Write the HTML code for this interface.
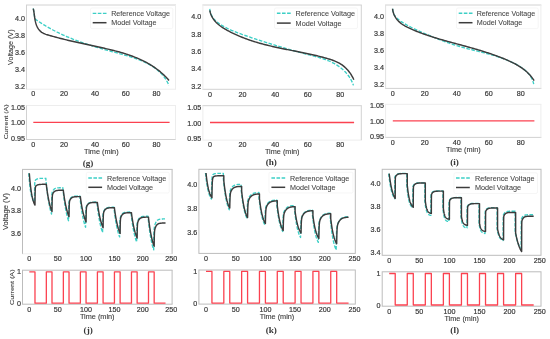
<!DOCTYPE html><html><head><meta charset="utf-8"><style>html,body{margin:0;padding:0;background:#fff;}svg{display:block;filter:blur(0.35px);}</style></head><body>
<svg width="550" height="339" viewBox="0 0 550 339">
<rect width="550" height="339" fill="#fff"/>
<path d="M26,5H176" stroke="#d2d2d2" stroke-width="1.0"/>
<path d="M26,89.2H176" stroke="#ededed" stroke-width="1.0"/>
<path d="M26.5,5V89.2" stroke="#d2d2d2" stroke-width="1.0"/>
<path d="M175.5,5V89.2" stroke="#ededed" stroke-width="1.0"/>
<path d="M26,105.5H176" stroke="#ededed" stroke-width="1.0"/>
<path d="M26,139.5H176" stroke="#d2d2d2" stroke-width="1.0"/>
<path d="M26.5,105.5V139.5" stroke="#d2d2d2" stroke-width="1.0"/>
<path d="M175.5,105.5V139.5" stroke="#ededed" stroke-width="1.0"/>
<text x="0" y="0" font-size="7.2" text-anchor="end" dominant-baseline="central" fill="#363636" font-family='"Liberation Sans", sans-serif' font-weight="normal" stroke="#363636" stroke-width="0.18" transform="translate(24.9 18.2) scale(1 1.12)">4.0</text>
<text x="0" y="0" font-size="7.2" text-anchor="end" dominant-baseline="central" fill="#363636" font-family='"Liberation Sans", sans-serif' font-weight="normal" stroke="#363636" stroke-width="0.18" transform="translate(24.9 35.2) scale(1 1.12)">3.8</text>
<text x="0" y="0" font-size="7.2" text-anchor="end" dominant-baseline="central" fill="#363636" font-family='"Liberation Sans", sans-serif' font-weight="normal" stroke="#363636" stroke-width="0.18" transform="translate(24.9 52.2) scale(1 1.12)">3.6</text>
<text x="0" y="0" font-size="7.2" text-anchor="end" dominant-baseline="central" fill="#363636" font-family='"Liberation Sans", sans-serif' font-weight="normal" stroke="#363636" stroke-width="0.18" transform="translate(24.9 69.2) scale(1 1.12)">3.4</text>
<text x="0" y="0" font-size="7.2" text-anchor="end" dominant-baseline="central" fill="#363636" font-family='"Liberation Sans", sans-serif' font-weight="normal" stroke="#363636" stroke-width="0.18" transform="translate(24.9 86.2) scale(1 1.12)">3.2</text>
<text x="0" y="0" font-size="7.2" text-anchor="middle" dominant-baseline="central" fill="#363636" font-family='"Liberation Sans", sans-serif' font-weight="normal" stroke="#363636" stroke-width="0.18" transform="translate(33.3 93.7) scale(1 1.12)">0</text>
<text x="0" y="0" font-size="7.2" text-anchor="middle" dominant-baseline="central" fill="#363636" font-family='"Liberation Sans", sans-serif' font-weight="normal" stroke="#363636" stroke-width="0.18" transform="translate(33.3 143.9) scale(1 1.12)">0</text>
<text x="0" y="0" font-size="7.2" text-anchor="middle" dominant-baseline="central" fill="#363636" font-family='"Liberation Sans", sans-serif' font-weight="normal" stroke="#363636" stroke-width="0.18" transform="translate(64.1 93.7) scale(1 1.12)">20</text>
<text x="0" y="0" font-size="7.2" text-anchor="middle" dominant-baseline="central" fill="#363636" font-family='"Liberation Sans", sans-serif' font-weight="normal" stroke="#363636" stroke-width="0.18" transform="translate(64.1 143.9) scale(1 1.12)">20</text>
<text x="0" y="0" font-size="7.2" text-anchor="middle" dominant-baseline="central" fill="#363636" font-family='"Liberation Sans", sans-serif' font-weight="normal" stroke="#363636" stroke-width="0.18" transform="translate(94.9 93.7) scale(1 1.12)">40</text>
<text x="0" y="0" font-size="7.2" text-anchor="middle" dominant-baseline="central" fill="#363636" font-family='"Liberation Sans", sans-serif' font-weight="normal" stroke="#363636" stroke-width="0.18" transform="translate(94.9 143.9) scale(1 1.12)">40</text>
<text x="0" y="0" font-size="7.2" text-anchor="middle" dominant-baseline="central" fill="#363636" font-family='"Liberation Sans", sans-serif' font-weight="normal" stroke="#363636" stroke-width="0.18" transform="translate(125.7 93.7) scale(1 1.12)">60</text>
<text x="0" y="0" font-size="7.2" text-anchor="middle" dominant-baseline="central" fill="#363636" font-family='"Liberation Sans", sans-serif' font-weight="normal" stroke="#363636" stroke-width="0.18" transform="translate(125.7 143.9) scale(1 1.12)">60</text>
<text x="0" y="0" font-size="7.2" text-anchor="middle" dominant-baseline="central" fill="#363636" font-family='"Liberation Sans", sans-serif' font-weight="normal" stroke="#363636" stroke-width="0.18" transform="translate(156.5 93.7) scale(1 1.12)">80</text>
<text x="0" y="0" font-size="7.2" text-anchor="middle" dominant-baseline="central" fill="#363636" font-family='"Liberation Sans", sans-serif' font-weight="normal" stroke="#363636" stroke-width="0.18" transform="translate(156.5 143.9) scale(1 1.12)">80</text>
<text x="0" y="0" font-size="7.2" text-anchor="end" dominant-baseline="central" fill="#363636" font-family='"Liberation Sans", sans-serif' font-weight="normal" stroke="#363636" stroke-width="0.18" transform="translate(24.9 107.1) scale(1 1.12)">1.05</text>
<text x="0" y="0" font-size="7.2" text-anchor="end" dominant-baseline="central" fill="#363636" font-family='"Liberation Sans", sans-serif' font-weight="normal" stroke="#363636" stroke-width="0.18" transform="translate(24.9 122.6) scale(1 1.12)">1.00</text>
<text x="0" y="0" font-size="7.2" text-anchor="end" dominant-baseline="central" fill="#363636" font-family='"Liberation Sans", sans-serif' font-weight="normal" stroke="#363636" stroke-width="0.18" transform="translate(24.9 138.3) scale(1 1.12)">0.95</text>
<path d="M33.3,8.5 L34.6,16.8 L35.72,19.46 L36.61,20.09 L37.51,20.71 L38.41,21.33 L39.32,21.93 L40.23,22.54 L41.15,23.13 L42.07,23.72 L42.99,24.3 L43.92,24.87 L44.85,25.44 L45.79,26 L46.72,26.55 L47.67,27.1 L48.62,27.64 L49.57,28.18 L50.52,28.7 L51.48,29.23 L52.44,29.74 L53.4,30.25 L54.37,30.75 L55.34,31.25 L56.32,31.74 L57.3,32.23 L58.28,32.71 L59.26,33.18 L60.25,33.65 L61.24,34.12 L62.23,34.57 L63.22,35.03 L64.22,35.47 L65.22,35.91 L66.22,36.35 L67.23,36.78 L68.23,37.21 L69.24,37.63 L70.26,38.05 L71.27,38.46 L72.28,38.86 L73.3,39.27 L74.32,39.66 L75.34,40.06 L76.37,40.44 L77.39,40.83 L78.42,41.21 L79.45,41.58 L80.48,41.95 L81.51,42.32 L82.54,42.68 L83.58,43.04 L84.61,43.4 L85.65,43.75 L86.69,44.1 L87.73,44.44 L88.76,44.78 L89.81,45.12 L90.85,45.45 L91.89,45.78 L92.93,46.11 L93.98,46.43 L95.02,46.75 L96.06,47.07 L97.11,47.38 L98.16,47.69 L99.2,48 L100.25,48.3 L101.29,48.6 L102.34,48.9 L103.39,49.2 L104.43,49.5 L105.48,49.79 L106.53,50.08 L107.58,50.38 L108.63,50.67 L109.68,50.95 L110.73,51.24 L111.78,51.53 L112.83,51.82 L113.88,52.11 L114.93,52.4 L115.99,52.68 L117.04,52.97 L118.1,53.26 L119.15,53.56 L120.21,53.85 L121.26,54.14 L122.32,54.44 L123.38,54.74 L124.44,55.04 L125.5,55.34 L126.56,55.65 L127.62,55.96 L128.68,56.27 L129.73,56.59 L130.79,56.92 L131.84,57.25 L132.89,57.59 L133.93,57.93 L134.98,58.29 L136.02,58.65 L137.05,59.02 L138.08,59.4 L139.11,59.79 L140.13,60.18 L141.14,60.59 L142.15,61.02 L143.15,61.45 L144.14,61.89 L145.13,62.35 L146.11,62.82 L147.07,63.31 L148.04,63.81 L148.99,64.33 L149.93,64.86 L150.86,65.4 L151.78,65.97 L152.69,66.55 L153.59,67.15 L154.48,67.76 L155.35,68.4 L156.21,69.05 L157.05,69.72 L157.88,70.41 L158.69,71.12 L159.49,71.84 L160.27,72.59 L161.03,73.36 L161.77,74.15 L162.49,74.96 L163.19,75.8 L163.87,76.65 L164.53,77.53 L165.16,78.43 L165.77,79.35 L166.36,80.29 L166.92,81.26 L167.46,82.25 L167.97,83.27 L168.45,84.31 L168.91,85.38" fill="none" stroke="#3ccfc6" stroke-width="1.35" stroke-linejoin="round" stroke-linecap="butt" stroke-dasharray="3.6 1.5"/>
<path d="M33.27,8.55 L33.5,9.61 L33.71,10.71 L33.89,11.84 L34.06,13 L34.22,14.19 L34.37,15.39 L34.54,16.6 L34.72,17.82 L34.91,19.04 L35.13,20.25 L35.38,21.45 L35.67,22.63 L36,23.8 L36.38,24.93 L36.82,26.04 L37.33,27.1 L37.9,28.12 L38.53,29.09 L39.24,30 L40,30.85 L40.83,31.63 L41.73,32.33 L42.69,32.95 L43.72,33.48 L44.79,33.94 L45.91,34.33 L47.05,34.69 L48.2,35.03 L49.35,35.37 L50.5,35.7 L51.65,36.03 L52.79,36.35 L53.94,36.67 L55.08,36.98 L56.23,37.29 L57.37,37.6 L58.52,37.9 L59.66,38.2 L60.81,38.49 L61.95,38.78 L63.09,39.07 L64.24,39.35 L65.38,39.63 L66.52,39.91 L67.66,40.19 L68.81,40.46 L69.95,40.73 L71.09,41 L72.24,41.26 L73.38,41.52 L74.53,41.78 L75.67,42.04 L76.82,42.3 L77.96,42.56 L79.11,42.81 L80.25,43.06 L81.4,43.31 L82.55,43.56 L83.7,43.81 L84.85,44.06 L86,44.31 L87.15,44.56 L88.3,44.81 L89.45,45.05 L90.6,45.3 L91.76,45.55 L92.91,45.79 L94.07,46.04 L95.23,46.29 L96.39,46.54 L97.55,46.79 L98.71,47.04 L99.87,47.29 L101.03,47.55 L102.19,47.8 L103.36,48.06 L104.52,48.32 L105.68,48.59 L106.84,48.85 L108,49.12 L109.16,49.4 L110.32,49.68 L111.48,49.96 L112.63,50.24 L113.79,50.54 L114.94,50.83 L116.09,51.13 L117.24,51.44 L118.39,51.75 L119.53,52.07 L120.67,52.39 L121.81,52.72 L122.95,53.06 L124.08,53.41 L125.21,53.76 L126.34,54.12 L127.46,54.48 L128.58,54.86 L129.69,55.24 L130.81,55.64 L131.91,56.04 L133.01,56.45 L134.11,56.87 L135.2,57.3 L136.29,57.74 L137.37,58.18 L138.45,58.64 L139.52,59.11 L140.59,59.6 L141.64,60.09 L142.7,60.59 L143.75,61.11 L144.79,61.64 L145.82,62.18 L146.85,62.73 L147.87,63.3 L148.88,63.87 L149.89,64.47 L150.89,65.07 L151.88,65.69 L152.86,66.32 L153.83,66.97 L154.8,67.64 L155.76,68.31 L156.71,69.01 L157.65,69.71 L158.58,70.44 L159.51,71.18 L160.42,71.93 L161.32,72.71 L162.22,73.5 L163.1,74.3 L163.98,75.12 L164.84,75.97 L165.7,76.83 L166.54,77.7 L167.38,78.6 L168.2,79.51 L169.01,80.44" fill="none" stroke="#3c3c3c" stroke-width="1.45" stroke-linejoin="round" stroke-linecap="butt"/>
<path d="M33.3,122.4 L169.59,122.4" fill="none" stroke="#fb4250" stroke-width="1.3" stroke-linejoin="round" stroke-linecap="butt"/>
<rect x="90.5" y="8" width="82.3" height="20.6" rx="1.5" fill="#fff" fill-opacity="0.8" stroke="#f2f2f2" stroke-width="0.7"/>
<path d="M92.7,13.4 L106.5,13.4" fill="none" stroke="#3ccfc6" stroke-width="1.4" stroke-linejoin="round" stroke-linecap="butt" stroke-dasharray="3.6 1.5"/>
<path d="M92.7,22.7 L106.5,22.7" fill="none" stroke="#3c3c3c" stroke-width="1.5" stroke-linejoin="round" stroke-linecap="butt"/>
<text x="0" y="0" font-size="7.5" text-anchor="start" dominant-baseline="central" fill="#444444" font-family='"Liberation Sans", sans-serif' font-weight="normal" stroke="#444444" stroke-width="0.06" transform="translate(111.2 13.4)" textLength="58.7" lengthAdjust="spacingAndGlyphs">Reference Voltage</text>
<text x="0" y="0" font-size="7.5" text-anchor="start" dominant-baseline="central" fill="#444444" font-family='"Liberation Sans", sans-serif' font-weight="normal" stroke="#444444" stroke-width="0.06" transform="translate(111.2 22.7)" textLength="45.4" lengthAdjust="spacingAndGlyphs">Model Voltage</text>
<text x="0" y="0" font-size="7.8" text-anchor="middle" dominant-baseline="central" fill="#363636" font-family='"Liberation Sans", sans-serif' font-weight="normal" stroke="#363636" stroke-width="0.1" transform="translate(101.3 151)" textLength="34.6" lengthAdjust="spacingAndGlyphs">Time (min)</text>
<text x="0" y="0" font-size="9.2" text-anchor="middle" dominant-baseline="central" fill="#363636" font-family='"Liberation Serif", serif' font-weight="bold" stroke="#363636" stroke-width="0" transform="translate(88 162.7)">(g)</text>
<path d="M202.4,5H361.8" stroke="#d2d2d2" stroke-width="1.0"/>
<path d="M202.4,89.3H361.8" stroke="#d2d2d2" stroke-width="1.0"/>
<path d="M202.9,5V89.3" stroke="#ededed" stroke-width="1.0"/>
<path d="M361.3,5V89.3" stroke="#d2d2d2" stroke-width="1.0"/>
<path d="M202.4,105.7H361.8" stroke="#d2d2d2" stroke-width="1.0"/>
<path d="M202.4,140.1H361.8" stroke="#ededed" stroke-width="1.0"/>
<path d="M202.9,105.7V140.1" stroke="#ededed" stroke-width="1.0"/>
<path d="M361.3,105.7V140.1" stroke="#d2d2d2" stroke-width="1.0"/>
<text x="0" y="0" font-size="7.2" text-anchor="end" dominant-baseline="central" fill="#363636" font-family='"Liberation Sans", sans-serif' font-weight="normal" stroke="#363636" stroke-width="0.18" transform="translate(201.3 16.8) scale(1 1.12)">4.0</text>
<text x="0" y="0" font-size="7.2" text-anchor="end" dominant-baseline="central" fill="#363636" font-family='"Liberation Sans", sans-serif' font-weight="normal" stroke="#363636" stroke-width="0.18" transform="translate(201.3 34.1) scale(1 1.12)">3.8</text>
<text x="0" y="0" font-size="7.2" text-anchor="end" dominant-baseline="central" fill="#363636" font-family='"Liberation Sans", sans-serif' font-weight="normal" stroke="#363636" stroke-width="0.18" transform="translate(201.3 51.4) scale(1 1.12)">3.6</text>
<text x="0" y="0" font-size="7.2" text-anchor="end" dominant-baseline="central" fill="#363636" font-family='"Liberation Sans", sans-serif' font-weight="normal" stroke="#363636" stroke-width="0.18" transform="translate(201.3 68.7) scale(1 1.12)">3.4</text>
<text x="0" y="0" font-size="7.2" text-anchor="end" dominant-baseline="central" fill="#363636" font-family='"Liberation Sans", sans-serif' font-weight="normal" stroke="#363636" stroke-width="0.18" transform="translate(201.3 86) scale(1 1.12)">3.2</text>
<text x="0" y="0" font-size="7.2" text-anchor="middle" dominant-baseline="central" fill="#363636" font-family='"Liberation Sans", sans-serif' font-weight="normal" stroke="#363636" stroke-width="0.18" transform="translate(210 94.2) scale(1 1.12)">0</text>
<text x="0" y="0" font-size="7.2" text-anchor="middle" dominant-baseline="central" fill="#363636" font-family='"Liberation Sans", sans-serif' font-weight="normal" stroke="#363636" stroke-width="0.18" transform="translate(210 144.4) scale(1 1.12)">0</text>
<text x="0" y="0" font-size="7.2" text-anchor="middle" dominant-baseline="central" fill="#363636" font-family='"Liberation Sans", sans-serif' font-weight="normal" stroke="#363636" stroke-width="0.18" transform="translate(242.56 94.2) scale(1 1.12)">20</text>
<text x="0" y="0" font-size="7.2" text-anchor="middle" dominant-baseline="central" fill="#363636" font-family='"Liberation Sans", sans-serif' font-weight="normal" stroke="#363636" stroke-width="0.18" transform="translate(242.56 144.4) scale(1 1.12)">20</text>
<text x="0" y="0" font-size="7.2" text-anchor="middle" dominant-baseline="central" fill="#363636" font-family='"Liberation Sans", sans-serif' font-weight="normal" stroke="#363636" stroke-width="0.18" transform="translate(275.12 94.2) scale(1 1.12)">40</text>
<text x="0" y="0" font-size="7.2" text-anchor="middle" dominant-baseline="central" fill="#363636" font-family='"Liberation Sans", sans-serif' font-weight="normal" stroke="#363636" stroke-width="0.18" transform="translate(275.12 144.4) scale(1 1.12)">40</text>
<text x="0" y="0" font-size="7.2" text-anchor="middle" dominant-baseline="central" fill="#363636" font-family='"Liberation Sans", sans-serif' font-weight="normal" stroke="#363636" stroke-width="0.18" transform="translate(307.68 94.2) scale(1 1.12)">60</text>
<text x="0" y="0" font-size="7.2" text-anchor="middle" dominant-baseline="central" fill="#363636" font-family='"Liberation Sans", sans-serif' font-weight="normal" stroke="#363636" stroke-width="0.18" transform="translate(307.68 144.4) scale(1 1.12)">60</text>
<text x="0" y="0" font-size="7.2" text-anchor="middle" dominant-baseline="central" fill="#363636" font-family='"Liberation Sans", sans-serif' font-weight="normal" stroke="#363636" stroke-width="0.18" transform="translate(340.24 94.2) scale(1 1.12)">80</text>
<text x="0" y="0" font-size="7.2" text-anchor="middle" dominant-baseline="central" fill="#363636" font-family='"Liberation Sans", sans-serif' font-weight="normal" stroke="#363636" stroke-width="0.18" transform="translate(340.24 144.4) scale(1 1.12)">80</text>
<text x="0" y="0" font-size="7.2" text-anchor="end" dominant-baseline="central" fill="#363636" font-family='"Liberation Sans", sans-serif' font-weight="normal" stroke="#363636" stroke-width="0.18" transform="translate(201.3 107.8) scale(1 1.12)">1.05</text>
<text x="0" y="0" font-size="7.2" text-anchor="end" dominant-baseline="central" fill="#363636" font-family='"Liberation Sans", sans-serif' font-weight="normal" stroke="#363636" stroke-width="0.18" transform="translate(201.3 122.9) scale(1 1.12)">1.00</text>
<text x="0" y="0" font-size="7.2" text-anchor="end" dominant-baseline="central" fill="#363636" font-family='"Liberation Sans", sans-serif' font-weight="normal" stroke="#363636" stroke-width="0.18" transform="translate(201.3 137.9) scale(1 1.12)">0.95</text>
<path d="M209.76,8.89 L209.92,10.2 L210.17,11.45 L210.49,12.64 L210.89,13.79 L211.36,14.88 L211.9,15.93 L212.49,16.94 L213.15,17.9 L213.86,18.82 L214.63,19.7 L215.44,20.54 L216.29,21.35 L217.19,22.13 L218.12,22.87 L219.08,23.59 L220.08,24.27 L221.09,24.94 L222.13,25.57 L223.19,26.19 L224.26,26.79 L225.34,27.37 L226.44,27.93 L227.54,28.48 L228.66,29.01 L229.78,29.52 L230.92,30.03 L232.05,30.52 L233.2,30.99 L234.35,31.46 L235.51,31.92 L236.66,32.37 L237.83,32.81 L238.99,33.25 L240.16,33.68 L241.32,34.1 L242.48,34.52 L243.65,34.94 L244.81,35.35 L245.97,35.76 L247.14,36.17 L248.3,36.57 L249.46,36.98 L250.62,37.37 L251.78,37.77 L252.94,38.16 L254.1,38.55 L255.26,38.93 L256.42,39.32 L257.58,39.7 L258.74,40.08 L259.9,40.46 L261.05,40.83 L262.21,41.2 L263.37,41.57 L264.53,41.94 L265.69,42.31 L266.85,42.67 L268.01,43.03 L269.17,43.4 L270.34,43.76 L271.5,44.11 L272.66,44.47 L273.82,44.83 L274.99,45.18 L276.15,45.54 L277.32,45.89 L278.48,46.24 L279.65,46.59 L280.82,46.94 L281.99,47.29 L283.16,47.64 L284.33,47.99 L285.5,48.34 L286.67,48.68 L287.84,49.03 L289.02,49.37 L290.19,49.71 L291.37,50.06 L292.55,50.39 L293.73,50.73 L294.91,51.07 L296.09,51.4 L297.27,51.73 L298.45,52.06 L299.64,52.39 L300.82,52.71 L302.01,53.04 L303.2,53.36 L304.39,53.67 L305.58,53.99 L306.77,54.3 L307.96,54.61 L309.15,54.91 L310.35,55.21 L311.54,55.52 L312.73,55.82 L313.93,56.13 L315.12,56.44 L316.3,56.76 L317.49,57.08 L318.67,57.42 L319.85,57.76 L321.02,58.11 L322.19,58.47 L323.35,58.85 L324.51,59.25 L325.65,59.66 L326.79,60.08 L327.93,60.53 L329.05,61 L330.17,61.49 L331.27,62 L332.36,62.54 L333.45,63.1 L334.52,63.69 L335.57,64.3 L336.61,64.93 L337.64,65.59 L338.65,66.28 L339.63,66.99 L340.6,67.72 L341.55,68.48 L342.48,69.27 L343.38,70.08 L344.26,70.92 L345.12,71.78 L345.95,72.67 L346.75,73.59 L347.52,74.53 L348.27,75.49 L348.98,76.49 L349.66,77.51 L350.31,78.55 L350.93,79.62 L351.51,80.72 L352.05,81.85 L352.55,83 L353.02,84.18 L353.45,85.39" fill="none" stroke="#3ccfc6" stroke-width="1.35" stroke-linejoin="round" stroke-linecap="butt" stroke-dasharray="3.6 1.5"/>
<path d="M209.8,10.33 L210.05,11.57 L210.36,12.77 L210.73,13.93 L211.16,15.05 L211.65,16.13 L212.19,17.17 L212.78,18.17 L213.42,19.14 L214.11,20.07 L214.84,20.97 L215.62,21.84 L216.43,22.68 L217.28,23.5 L218.16,24.28 L219.07,25.04 L220.01,25.77 L220.98,26.48 L221.97,27.17 L222.98,27.83 L224.01,28.48 L225.06,29.11 L226.12,29.72 L227.19,30.32 L228.27,30.9 L229.36,31.47 L230.44,32.03 L231.53,32.58 L232.63,33.11 L233.72,33.64 L234.82,34.15 L235.93,34.66 L237.03,35.15 L238.14,35.64 L239.25,36.11 L240.36,36.58 L241.48,37.03 L242.59,37.48 L243.71,37.91 L244.84,38.34 L245.96,38.76 L247.09,39.17 L248.22,39.57 L249.35,39.97 L250.48,40.36 L251.62,40.73 L252.75,41.11 L253.89,41.47 L255.04,41.83 L256.18,42.17 L257.33,42.52 L258.47,42.85 L259.62,43.18 L260.77,43.51 L261.93,43.82 L263.08,44.13 L264.24,44.44 L265.4,44.74 L266.56,45.03 L267.72,45.32 L268.88,45.61 L270.05,45.89 L271.21,46.16 L272.38,46.43 L273.55,46.7 L274.72,46.96 L275.89,47.22 L277.06,47.47 L278.24,47.73 L279.41,47.98 L280.59,48.22 L281.76,48.47 L282.94,48.71 L284.12,48.95 L285.3,49.19 L286.47,49.42 L287.65,49.66 L288.83,49.89 L290.02,50.12 L291.2,50.36 L292.38,50.59 L293.56,50.82 L294.74,51.05 L295.92,51.29 L297.1,51.52 L298.29,51.75 L299.47,51.99 L300.65,52.23 L301.83,52.46 L303.01,52.7 L304.19,52.95 L305.37,53.19 L306.55,53.44 L307.73,53.69 L308.91,53.94 L310.08,54.19 L311.26,54.45 L312.43,54.72 L313.61,54.98 L314.78,55.26 L315.95,55.53 L317.13,55.81 L318.3,56.1 L319.47,56.39 L320.63,56.68 L321.8,56.99 L322.96,57.29 L324.13,57.61 L325.29,57.93 L326.45,58.25 L327.6,58.59 L328.76,58.94 L329.9,59.29 L331.04,59.67 L332.17,60.06 L333.29,60.47 L334.4,60.9 L335.49,61.36 L336.57,61.84 L337.64,62.35 L338.69,62.89 L339.71,63.46 L340.72,64.07 L341.71,64.71 L342.67,65.4 L343.6,66.12 L344.52,66.88 L345.4,67.68 L346.26,68.51 L347.1,69.38 L347.9,70.29 L348.68,71.22 L349.43,72.19 L350.15,73.18 L350.84,74.21 L351.5,75.26 L352.13,76.33 L352.73,77.43 L353.29,78.55 L353.83,79.69" fill="none" stroke="#3c3c3c" stroke-width="1.45" stroke-linejoin="round" stroke-linecap="butt"/>
<path d="M210,122.5 L354.08,122.5" fill="none" stroke="#fb4250" stroke-width="1.3" stroke-linejoin="round" stroke-linecap="butt"/>
<rect x="274.5" y="8" width="83" height="20.6" rx="1.5" fill="#fff" fill-opacity="0.8" stroke="#f2f2f2" stroke-width="0.7"/>
<path d="M276.9,13.3 L290.7,13.3" fill="none" stroke="#3ccfc6" stroke-width="1.4" stroke-linejoin="round" stroke-linecap="butt" stroke-dasharray="3.6 1.5"/>
<path d="M276.9,23.1 L290.7,23.1" fill="none" stroke="#3c3c3c" stroke-width="1.5" stroke-linejoin="round" stroke-linecap="butt"/>
<text x="0" y="0" font-size="7.5" text-anchor="start" dominant-baseline="central" fill="#444444" font-family='"Liberation Sans", sans-serif' font-weight="normal" stroke="#444444" stroke-width="0.06" transform="translate(295.6 13.3)" textLength="59.4" lengthAdjust="spacingAndGlyphs">Reference Voltage</text>
<text x="0" y="0" font-size="7.5" text-anchor="start" dominant-baseline="central" fill="#444444" font-family='"Liberation Sans", sans-serif' font-weight="normal" stroke="#444444" stroke-width="0.06" transform="translate(295.6 23.1)" textLength="46" lengthAdjust="spacingAndGlyphs">Model Voltage</text>
<text x="0" y="0" font-size="7.8" text-anchor="middle" dominant-baseline="central" fill="#363636" font-family='"Liberation Sans", sans-serif' font-weight="normal" stroke="#363636" stroke-width="0.1" transform="translate(282.2 151.6)" textLength="34.6" lengthAdjust="spacingAndGlyphs">Time (min)</text>
<text x="0" y="0" font-size="9.2" text-anchor="middle" dominant-baseline="central" fill="#363636" font-family='"Liberation Serif", serif' font-weight="bold" stroke="#363636" stroke-width="0" transform="translate(271.3 162.3)">(h)</text>
<path d="M385.1,5H541.4" stroke="#d2d2d2" stroke-width="1.0"/>
<path d="M385.1,88.4H541.4" stroke="#d2d2d2" stroke-width="1.0"/>
<path d="M385.6,5V88.4" stroke="#e0e0e0" stroke-width="1.0"/>
<path d="M540.9,5V88.4" stroke="#ededed" stroke-width="1.0"/>
<path d="M385.1,104.3H541.4" stroke="#ededed" stroke-width="1.0"/>
<path d="M385.1,137.4H541.4" stroke="#d2d2d2" stroke-width="1.0"/>
<path d="M385.6,104.3V137.4" stroke="#ededed" stroke-width="1.0"/>
<path d="M540.9,104.3V137.4" stroke="#ededed" stroke-width="1.0"/>
<text x="0" y="0" font-size="7.2" text-anchor="end" dominant-baseline="central" fill="#363636" font-family='"Liberation Sans", sans-serif' font-weight="normal" stroke="#363636" stroke-width="0.18" transform="translate(384 16.8) scale(1 1.12)">4.0</text>
<text x="0" y="0" font-size="7.2" text-anchor="end" dominant-baseline="central" fill="#363636" font-family='"Liberation Sans", sans-serif' font-weight="normal" stroke="#363636" stroke-width="0.18" transform="translate(384 33.7) scale(1 1.12)">3.8</text>
<text x="0" y="0" font-size="7.2" text-anchor="end" dominant-baseline="central" fill="#363636" font-family='"Liberation Sans", sans-serif' font-weight="normal" stroke="#363636" stroke-width="0.18" transform="translate(384 50.6) scale(1 1.12)">3.6</text>
<text x="0" y="0" font-size="7.2" text-anchor="end" dominant-baseline="central" fill="#363636" font-family='"Liberation Sans", sans-serif' font-weight="normal" stroke="#363636" stroke-width="0.18" transform="translate(384 67.5) scale(1 1.12)">3.4</text>
<text x="0" y="0" font-size="7.2" text-anchor="end" dominant-baseline="central" fill="#363636" font-family='"Liberation Sans", sans-serif' font-weight="normal" stroke="#363636" stroke-width="0.18" transform="translate(384 84.4) scale(1 1.12)">3.2</text>
<text x="0" y="0" font-size="7.2" text-anchor="middle" dominant-baseline="central" fill="#363636" font-family='"Liberation Sans", sans-serif' font-weight="normal" stroke="#363636" stroke-width="0.18" transform="translate(392.8 93) scale(1 1.12)">0</text>
<text x="0" y="0" font-size="7.2" text-anchor="middle" dominant-baseline="central" fill="#363636" font-family='"Liberation Sans", sans-serif' font-weight="normal" stroke="#363636" stroke-width="0.18" transform="translate(392.8 142.6) scale(1 1.12)">0</text>
<text x="0" y="0" font-size="7.2" text-anchor="middle" dominant-baseline="central" fill="#363636" font-family='"Liberation Sans", sans-serif' font-weight="normal" stroke="#363636" stroke-width="0.18" transform="translate(424.8 93) scale(1 1.12)">20</text>
<text x="0" y="0" font-size="7.2" text-anchor="middle" dominant-baseline="central" fill="#363636" font-family='"Liberation Sans", sans-serif' font-weight="normal" stroke="#363636" stroke-width="0.18" transform="translate(424.8 142.6) scale(1 1.12)">20</text>
<text x="0" y="0" font-size="7.2" text-anchor="middle" dominant-baseline="central" fill="#363636" font-family='"Liberation Sans", sans-serif' font-weight="normal" stroke="#363636" stroke-width="0.18" transform="translate(456.8 93) scale(1 1.12)">40</text>
<text x="0" y="0" font-size="7.2" text-anchor="middle" dominant-baseline="central" fill="#363636" font-family='"Liberation Sans", sans-serif' font-weight="normal" stroke="#363636" stroke-width="0.18" transform="translate(456.8 142.6) scale(1 1.12)">40</text>
<text x="0" y="0" font-size="7.2" text-anchor="middle" dominant-baseline="central" fill="#363636" font-family='"Liberation Sans", sans-serif' font-weight="normal" stroke="#363636" stroke-width="0.18" transform="translate(488.8 93) scale(1 1.12)">60</text>
<text x="0" y="0" font-size="7.2" text-anchor="middle" dominant-baseline="central" fill="#363636" font-family='"Liberation Sans", sans-serif' font-weight="normal" stroke="#363636" stroke-width="0.18" transform="translate(488.8 142.6) scale(1 1.12)">60</text>
<text x="0" y="0" font-size="7.2" text-anchor="middle" dominant-baseline="central" fill="#363636" font-family='"Liberation Sans", sans-serif' font-weight="normal" stroke="#363636" stroke-width="0.18" transform="translate(520.8 93) scale(1 1.12)">80</text>
<text x="0" y="0" font-size="7.2" text-anchor="middle" dominant-baseline="central" fill="#363636" font-family='"Liberation Sans", sans-serif' font-weight="normal" stroke="#363636" stroke-width="0.18" transform="translate(520.8 142.6) scale(1 1.12)">80</text>
<text x="0" y="0" font-size="7.2" text-anchor="end" dominant-baseline="central" fill="#363636" font-family='"Liberation Sans", sans-serif' font-weight="normal" stroke="#363636" stroke-width="0.18" transform="translate(384 105.6) scale(1 1.12)">1.05</text>
<text x="0" y="0" font-size="7.2" text-anchor="end" dominant-baseline="central" fill="#363636" font-family='"Liberation Sans", sans-serif' font-weight="normal" stroke="#363636" stroke-width="0.18" transform="translate(384 121.2) scale(1 1.12)">1.00</text>
<text x="0" y="0" font-size="7.2" text-anchor="end" dominant-baseline="central" fill="#363636" font-family='"Liberation Sans", sans-serif' font-weight="normal" stroke="#363636" stroke-width="0.18" transform="translate(384 136.6) scale(1 1.12)">0.95</text>
<path d="M392.69,8.82 L392.78,10.16 L392.99,11.42 L393.31,12.6 L393.73,13.71 L394.25,14.75 L394.85,15.72 L395.52,16.63 L396.27,17.5 L397.07,18.31 L397.93,19.09 L398.83,19.83 L399.76,20.54 L400.72,21.23 L401.69,21.89 L402.68,22.54 L403.69,23.18 L404.7,23.8 L405.73,24.4 L406.78,24.99 L407.83,25.57 L408.89,26.13 L409.96,26.69 L411.04,27.23 L412.12,27.77 L413.21,28.3 L414.3,28.82 L415.4,29.33 L416.5,29.84 L417.6,30.35 L418.7,30.85 L419.8,31.35 L420.91,31.84 L422.01,32.33 L423.11,32.82 L424.21,33.3 L425.31,33.79 L426.42,34.26 L427.52,34.74 L428.62,35.21 L429.73,35.68 L430.83,36.14 L431.94,36.6 L433.05,37.05 L434.15,37.5 L435.26,37.95 L436.37,38.39 L437.48,38.83 L438.59,39.27 L439.7,39.7 L440.82,40.12 L441.93,40.54 L443.05,40.96 L444.17,41.37 L445.28,41.78 L446.41,42.18 L447.53,42.58 L448.65,42.97 L449.78,43.36 L450.9,43.74 L452.03,44.11 L453.16,44.49 L454.3,44.85 L455.43,45.21 L456.57,45.57 L457.71,45.92 L458.85,46.26 L460,46.6 L461.14,46.93 L462.29,47.25 L463.44,47.57 L464.6,47.89 L465.75,48.2 L466.91,48.51 L468.07,48.81 L469.23,49.11 L470.39,49.41 L471.55,49.7 L472.71,49.99 L473.88,50.28 L475.04,50.57 L476.21,50.86 L477.37,51.15 L478.54,51.44 L479.71,51.73 L480.87,52.03 L482.04,52.32 L483.2,52.62 L484.36,52.91 L485.52,53.22 L486.69,53.52 L487.85,53.83 L489,54.14 L490.16,54.46 L491.31,54.79 L492.47,55.12 L493.62,55.45 L494.77,55.8 L495.91,56.15 L497.05,56.51 L498.19,56.87 L499.33,57.25 L500.46,57.63 L501.59,58.03 L502.72,58.43 L503.84,58.84 L504.96,59.27 L506.07,59.71 L507.18,60.15 L508.29,60.61 L509.39,61.09 L510.49,61.57 L511.58,62.07 L512.66,62.59 L513.74,63.12 L514.82,63.66 L515.89,64.22 L516.95,64.8 L518,65.39 L519.05,66 L520.07,66.63 L521.09,67.28 L522.08,67.96 L523.05,68.66 L524,69.38 L524.92,70.13 L525.82,70.91 L526.68,71.71 L527.51,72.55 L528.3,73.42 L529.05,74.32 L529.77,75.25 L530.44,76.22 L531.06,77.22 L531.64,78.26 L532.17,79.35 L532.64,80.47 L533.06,81.63 L533.42,82.83 L533.72,84.08" fill="none" stroke="#3ccfc6" stroke-width="1.35" stroke-linejoin="round" stroke-linecap="butt" stroke-dasharray="3.6 1.5"/>
<path d="M392.56,8.73 L392.74,10.07 L392.99,11.36 L393.31,12.58 L393.7,13.75 L394.14,14.87 L394.64,15.94 L395.2,16.95 L395.81,17.92 L396.46,18.85 L397.17,19.73 L397.92,20.57 L398.7,21.37 L399.53,22.13 L400.39,22.86 L401.29,23.56 L402.22,24.23 L403.17,24.87 L404.15,25.48 L405.15,26.07 L406.18,26.63 L407.22,27.18 L408.27,27.7 L409.34,28.21 L410.42,28.71 L411.51,29.19 L412.6,29.67 L413.69,30.14 L414.79,30.59 L415.89,31.04 L417,31.49 L418.1,31.92 L419.21,32.35 L420.32,32.77 L421.44,33.18 L422.55,33.59 L423.67,33.99 L424.79,34.39 L425.91,34.78 L427.03,35.16 L428.16,35.54 L429.28,35.91 L430.41,36.28 L431.54,36.64 L432.68,37 L433.81,37.36 L434.94,37.71 L436.08,38.05 L437.22,38.39 L438.35,38.73 L439.49,39.07 L440.63,39.4 L441.77,39.73 L442.91,40.05 L444.05,40.38 L445.2,40.7 L446.34,41.02 L447.48,41.34 L448.63,41.65 L449.77,41.97 L450.91,42.28 L452.06,42.59 L453.2,42.9 L454.35,43.21 L455.49,43.52 L456.63,43.83 L457.78,44.14 L458.92,44.45 L460.06,44.76 L461.2,45.07 L462.35,45.38 L463.49,45.69 L464.63,46.01 L465.77,46.32 L466.91,46.63 L468.05,46.95 L469.19,47.27 L470.33,47.59 L471.46,47.91 L472.6,48.23 L473.73,48.55 L474.87,48.88 L476,49.21 L477.14,49.54 L478.27,49.88 L479.4,50.22 L480.53,50.56 L481.66,50.9 L482.78,51.25 L483.91,51.6 L485.03,51.96 L486.16,52.32 L487.28,52.68 L488.4,53.05 L489.52,53.42 L490.64,53.8 L491.76,54.18 L492.87,54.57 L493.98,54.96 L495.09,55.36 L496.2,55.76 L497.31,56.17 L498.42,56.58 L499.52,57.01 L500.63,57.43 L501.73,57.87 L502.83,58.3 L503.92,58.75 L505.02,59.2 L506.11,59.66 L507.2,60.13 L508.29,60.61 L509.37,61.09 L510.44,61.59 L511.52,62.09 L512.58,62.61 L513.64,63.14 L514.69,63.69 L515.73,64.24 L516.76,64.82 L517.78,65.4 L518.79,66.01 L519.79,66.63 L520.77,67.27 L521.74,67.93 L522.7,68.61 L523.64,69.31 L524.56,70.03 L525.47,70.77 L526.36,71.54 L527.23,72.33 L528.09,73.15 L528.92,73.99 L529.73,74.85 L530.52,75.75 L531.29,76.67 L532.04,77.62 L532.76,78.6 L533.46,79.61 L534.13,80.65" fill="none" stroke="#3c3c3c" stroke-width="1.45" stroke-linejoin="round" stroke-linecap="butt"/>
<path d="M392.8,120.9 L534.4,120.9" fill="none" stroke="#fb4250" stroke-width="1.3" stroke-linejoin="round" stroke-linecap="butt"/>
<rect x="456.5" y="8" width="81.7" height="20.6" rx="1.5" fill="#fff" fill-opacity="0.8" stroke="#f2f2f2" stroke-width="0.7"/>
<path d="M458.7,13.3 L472.5,13.3" fill="none" stroke="#3ccfc6" stroke-width="1.4" stroke-linejoin="round" stroke-linecap="butt" stroke-dasharray="3.6 1.5"/>
<path d="M458.7,22.7 L472.5,22.7" fill="none" stroke="#3c3c3c" stroke-width="1.5" stroke-linejoin="round" stroke-linecap="butt"/>
<text x="0" y="0" font-size="7.5" text-anchor="start" dominant-baseline="central" fill="#444444" font-family='"Liberation Sans", sans-serif' font-weight="normal" stroke="#444444" stroke-width="0.06" transform="translate(476.7 13.3)" textLength="58.4" lengthAdjust="spacingAndGlyphs">Reference Voltage</text>
<text x="0" y="0" font-size="7.5" text-anchor="start" dominant-baseline="central" fill="#444444" font-family='"Liberation Sans", sans-serif' font-weight="normal" stroke="#444444" stroke-width="0.06" transform="translate(476.7 22.7)" textLength="45.6" lengthAdjust="spacingAndGlyphs">Model Voltage</text>
<text x="0" y="0" font-size="7.8" text-anchor="middle" dominant-baseline="central" fill="#363636" font-family='"Liberation Sans", sans-serif' font-weight="normal" stroke="#363636" stroke-width="0.1" transform="translate(463.4 149.4)" textLength="34.6" lengthAdjust="spacingAndGlyphs">Time (min)</text>
<text x="0" y="0" font-size="9.2" text-anchor="middle" dominant-baseline="central" fill="#363636" font-family='"Liberation Serif", serif' font-weight="bold" stroke="#363636" stroke-width="0" transform="translate(454.5 162)">(i)</text>
<path d="M22,169.4H172.6" stroke="#bcbcbc" stroke-width="1.0"/>
<path d="M22,253.8H172.6" stroke="#efefef" stroke-width="1.0"/>
<path d="M22.5,169.4V253.8" stroke="#bcbcbc" stroke-width="1.0"/>
<path d="M172.1,169.4V253.8" stroke="#bcbcbc" stroke-width="1.0"/>
<path d="M22,270.2H172.6" stroke="#bcbcbc" stroke-width="1.0"/>
<path d="M22,304.2H172.6" stroke="#bcbcbc" stroke-width="1.0"/>
<path d="M22.5,270.2V304.2" stroke="#bcbcbc" stroke-width="1.0"/>
<path d="M172.1,270.2V304.2" stroke="#bcbcbc" stroke-width="1.0"/>
<text x="0" y="0" font-size="7.2" text-anchor="end" dominant-baseline="central" fill="#363636" font-family='"Liberation Sans", sans-serif' font-weight="normal" stroke="#363636" stroke-width="0.18" transform="translate(20.9 188.1) scale(1 1.12)">4.0</text>
<text x="0" y="0" font-size="7.2" text-anchor="end" dominant-baseline="central" fill="#363636" font-family='"Liberation Sans", sans-serif' font-weight="normal" stroke="#363636" stroke-width="0.18" transform="translate(20.9 210.6) scale(1 1.12)">3.8</text>
<text x="0" y="0" font-size="7.2" text-anchor="end" dominant-baseline="central" fill="#363636" font-family='"Liberation Sans", sans-serif' font-weight="normal" stroke="#363636" stroke-width="0.18" transform="translate(20.9 233) scale(1 1.12)">3.6</text>
<text x="0" y="0" font-size="7.2" text-anchor="middle" dominant-baseline="central" fill="#363636" font-family='"Liberation Sans", sans-serif' font-weight="normal" stroke="#363636" stroke-width="0.18" transform="translate(29.3 258.6) scale(1 1.12)">0</text>
<text x="0" y="0" font-size="7.2" text-anchor="middle" dominant-baseline="central" fill="#363636" font-family='"Liberation Sans", sans-serif' font-weight="normal" stroke="#363636" stroke-width="0.18" transform="translate(29.3 309.2) scale(1 1.12)">0</text>
<text x="0" y="0" font-size="7.2" text-anchor="middle" dominant-baseline="central" fill="#363636" font-family='"Liberation Sans", sans-serif' font-weight="normal" stroke="#363636" stroke-width="0.18" transform="translate(57.68 258.6) scale(1 1.12)">50</text>
<text x="0" y="0" font-size="7.2" text-anchor="middle" dominant-baseline="central" fill="#363636" font-family='"Liberation Sans", sans-serif' font-weight="normal" stroke="#363636" stroke-width="0.18" transform="translate(57.68 309.2) scale(1 1.12)">50</text>
<text x="0" y="0" font-size="7.2" text-anchor="middle" dominant-baseline="central" fill="#363636" font-family='"Liberation Sans", sans-serif' font-weight="normal" stroke="#363636" stroke-width="0.18" transform="translate(86.06 258.6) scale(1 1.12)">100</text>
<text x="0" y="0" font-size="7.2" text-anchor="middle" dominant-baseline="central" fill="#363636" font-family='"Liberation Sans", sans-serif' font-weight="normal" stroke="#363636" stroke-width="0.18" transform="translate(86.06 309.2) scale(1 1.12)">100</text>
<text x="0" y="0" font-size="7.2" text-anchor="middle" dominant-baseline="central" fill="#363636" font-family='"Liberation Sans", sans-serif' font-weight="normal" stroke="#363636" stroke-width="0.18" transform="translate(114.44 258.6) scale(1 1.12)">150</text>
<text x="0" y="0" font-size="7.2" text-anchor="middle" dominant-baseline="central" fill="#363636" font-family='"Liberation Sans", sans-serif' font-weight="normal" stroke="#363636" stroke-width="0.18" transform="translate(114.44 309.2) scale(1 1.12)">150</text>
<text x="0" y="0" font-size="7.2" text-anchor="middle" dominant-baseline="central" fill="#363636" font-family='"Liberation Sans", sans-serif' font-weight="normal" stroke="#363636" stroke-width="0.18" transform="translate(142.82 258.6) scale(1 1.12)">200</text>
<text x="0" y="0" font-size="7.2" text-anchor="middle" dominant-baseline="central" fill="#363636" font-family='"Liberation Sans", sans-serif' font-weight="normal" stroke="#363636" stroke-width="0.18" transform="translate(142.82 309.2) scale(1 1.12)">200</text>
<text x="0" y="0" font-size="7.2" text-anchor="middle" dominant-baseline="central" fill="#363636" font-family='"Liberation Sans", sans-serif' font-weight="normal" stroke="#363636" stroke-width="0.18" transform="translate(171.2 258.6) scale(1 1.12)">250</text>
<text x="0" y="0" font-size="7.2" text-anchor="middle" dominant-baseline="central" fill="#363636" font-family='"Liberation Sans", sans-serif' font-weight="normal" stroke="#363636" stroke-width="0.18" transform="translate(171.2 309.2) scale(1 1.12)">250</text>
<text x="0" y="0" font-size="7.2" text-anchor="end" dominant-baseline="central" fill="#363636" font-family='"Liberation Sans", sans-serif' font-weight="normal" stroke="#363636" stroke-width="0.18" transform="translate(20.9 271.8) scale(1 1.12)">1</text>
<text x="0" y="0" font-size="7.2" text-anchor="end" dominant-baseline="central" fill="#363636" font-family='"Liberation Sans", sans-serif' font-weight="normal" stroke="#363636" stroke-width="0.18" transform="translate(20.9 303.2) scale(1 1.12)">0</text>
<path d="M28.8,173.3 L28.8,173.3 L28.87,174.33 L28.97,175.77 L29.08,177.36 L29.21,179.02 L29.35,180.69 L29.5,182.35 L29.66,183.96 L29.82,185.51 L29.99,186.99 L30.16,188.4 L30.34,189.73 L30.52,190.97 L30.71,192.13 L30.91,193.21 L31.11,194.21 L31.31,195.13 L31.51,195.98 L31.72,196.75 L31.93,197.46 L32.15,198.11 L32.37,198.7 L32.59,199.24 L32.82,199.72 L33.05,200.16 L33.28,200.55 L33.51,200.91 L33.75,201.23 L33.99,201.51 L34.23,201.77 L34.48,202 L34.48,201.55 L34.49,200.24 L34.5,198.25 L34.53,195.8 L34.55,193.16 L34.59,190.56 L34.63,188.19 L34.68,186.16 L34.73,184.52 L34.79,183.27 L34.86,182.34 L34.93,181.67 L35.01,181.2 L35.09,180.87 L35.19,180.62 L35.28,180.43 L35.39,180.28 L35.5,180.14 L35.61,180.01 L35.74,179.88 L35.87,179.77 L36,179.65 L36.14,179.55 L36.29,179.44 L36.45,179.34 L36.61,179.25 L36.77,179.16 L36.95,179.08 L37.13,179 L37.31,178.93 L37.51,178.86 L37.71,178.8 L37.91,178.74 L38.12,178.69 L38.34,178.64 L38.56,178.6 L38.79,178.56 L39.03,178.53 L39.27,178.5 L39.52,178.47 L39.78,178.45 L40.04,178.43 L40.31,178.41 L40.58,178.39 L40.86,178.38 L41.15,178.37 L41.44,178.36 L41.74,178.35 L42.05,178.34 L42.36,178.33 L42.68,178.33 L43,178.32 L43.33,178.32 L43.67,178.31 L44.01,178.31 L44.36,178.31 L44.72,178.31 L45.08,178.31 L45.45,178.31 L45.83,178.3 L45.83,178.8 L45.9,179.54 L46,180.59 L46.11,181.8 L46.24,183.09 L46.38,184.45 L46.53,185.85 L46.68,187.28 L46.85,188.71 L47.01,190.15 L47.19,191.57 L47.37,192.99 L47.55,194.39 L47.74,195.77 L47.94,197.12 L48.13,198.44 L48.33,199.73 L48.54,200.99 L48.75,202.21 L48.96,203.4 L49.18,204.55 L49.4,205.66 L49.62,206.73 L49.85,207.77 L50.07,208.77 L50.31,209.73 L50.54,210.66 L50.78,211.55 L51.02,212.4 L51.26,213.22 L51.5,214 L51.51,213.56 L51.52,212.29 L51.53,210.36 L51.55,207.98 L51.58,205.4 L51.62,202.84 L51.66,200.5 L51.71,198.47 L51.76,196.8 L51.82,195.49 L51.89,194.49 L51.96,193.73 L52.04,193.16 L52.12,192.71 L52.21,192.34 L52.31,192.02 L52.42,191.74 L52.53,191.47 L52.64,191.21 L52.77,190.96 L52.89,190.72 L53.03,190.49 L53.17,190.27 L53.32,190.05 L53.47,189.85 L53.64,189.66 L53.8,189.47 L53.98,189.3 L54.16,189.14 L54.34,188.99 L54.53,188.85 L54.73,188.73 L54.94,188.61 L55.15,188.5 L55.37,188.41 L55.59,188.32 L55.82,188.24 L56.06,188.17 L56.3,188.11 L56.55,188.05 L56.8,188 L57.07,187.96 L57.33,187.92 L57.61,187.89 L57.89,187.86 L58.18,187.84 L58.47,187.81 L58.77,187.8 L59.08,187.78 L59.39,187.77 L59.71,187.76 L60.03,187.75 L60.36,187.74 L60.7,187.73 L61.04,187.73 L61.39,187.72 L61.75,187.72 L62.11,187.71 L62.48,187.71 L62.86,187.71 L62.86,188.2 L62.92,188.88 L63.02,189.85 L63.14,190.97 L63.27,192.16 L63.41,193.42 L63.56,194.71 L63.71,196.03 L63.87,197.35 L64.04,198.67 L64.22,199.99 L64.4,201.3 L64.58,202.59 L64.77,203.87 L64.96,205.11 L65.16,206.33 L65.36,207.52 L65.57,208.69 L65.78,209.81 L65.99,210.91 L66.21,211.97 L66.43,213 L66.65,213.99 L66.87,214.95 L67.1,215.87 L67.33,216.76 L67.57,217.62 L67.81,218.44 L68.05,219.22 L68.29,219.98 L68.53,220.7 L68.54,220.31 L68.54,219.17 L68.56,217.44 L68.58,215.31 L68.61,212.99 L68.65,210.7 L68.69,208.59 L68.73,206.75 L68.79,205.24 L68.85,204.03 L68.91,203.1 L68.99,202.38 L69.06,201.82 L69.15,201.38 L69.24,201 L69.34,200.67 L69.44,200.37 L69.55,200.08 L69.67,199.8 L69.79,199.54 L69.92,199.28 L70.06,199.02 L70.2,198.78 L70.35,198.55 L70.5,198.33 L70.66,198.12 L70.83,197.92 L71,197.73 L71.18,197.56 L71.37,197.4 L71.56,197.25 L71.76,197.11 L71.97,196.99 L72.18,196.87 L72.39,196.77 L72.62,196.67 L72.85,196.59 L73.09,196.51 L73.33,196.44 L73.58,196.38 L73.83,196.33 L74.09,196.28 L74.36,196.24 L74.64,196.21 L74.92,196.17 L75.2,196.15 L75.5,196.12 L75.8,196.1 L76.1,196.09 L76.42,196.07 L76.73,196.06 L77.06,196.05 L77.39,196.04 L77.73,196.03 L78.07,196.03 L78.42,196.02 L78.78,196.02 L79.14,196.01 L79.51,196.01 L79.88,196.01 L79.88,196.5 L79.95,197.14 L80.05,198.06 L80.17,199.11 L80.3,200.25 L80.44,201.43 L80.58,202.65 L80.74,203.89 L80.9,205.14 L81.07,206.39 L81.24,207.64 L81.42,208.88 L81.61,210.1 L81.8,211.3 L81.99,212.48 L82.19,213.63 L82.39,214.75 L82.6,215.85 L82.81,216.92 L83.02,217.95 L83.23,218.96 L83.45,219.93 L83.68,220.86 L83.9,221.77 L84.13,222.64 L84.36,223.48 L84.6,224.29 L84.83,225.06 L85.07,225.8 L85.32,226.52 L85.56,227.2 L85.56,226.8 L85.57,225.64 L85.59,223.88 L85.61,221.7 L85.64,219.34 L85.67,217 L85.71,214.84 L85.76,212.97 L85.82,211.42 L85.88,210.19 L85.94,209.24 L86.01,208.51 L86.09,207.94 L86.18,207.49 L86.27,207.1 L86.37,206.77 L86.47,206.46 L86.58,206.16 L86.7,205.88 L86.82,205.61 L86.95,205.34 L87.09,205.09 L87.23,204.84 L87.38,204.6 L87.53,204.38 L87.69,204.16 L87.86,203.96 L88.03,203.77 L88.21,203.59 L88.4,203.43 L88.59,203.28 L88.79,203.13 L88.99,203.01 L89.21,202.89 L89.42,202.78 L89.65,202.69 L89.88,202.6 L90.11,202.52 L90.36,202.45 L90.61,202.39 L90.86,202.34 L91.12,202.29 L91.39,202.25 L91.66,202.21 L91.95,202.18 L92.23,202.15 L92.53,202.13 L92.83,202.11 L93.13,202.09 L93.44,202.07 L93.76,202.06 L94.09,202.05 L94.42,202.04 L94.76,202.03 L95.1,202.03 L95.45,202.02 L95.81,202.02 L96.17,202.01 L96.54,202.01 L96.91,202.01 L96.91,202.5 L96.98,203.13 L97.08,204.03 L97.2,205.05 L97.33,206.16 L97.46,207.32 L97.61,208.51 L97.77,209.72 L97.93,210.95 L98.1,212.17 L98.27,213.39 L98.45,214.6 L98.64,215.79 L98.83,216.96 L99.02,218.11 L99.22,219.24 L99.42,220.34 L99.62,221.41 L99.83,222.45 L100.05,223.46 L100.26,224.44 L100.48,225.39 L100.7,226.31 L100.93,227.19 L101.16,228.04 L101.39,228.86 L101.62,229.65 L101.86,230.41 L102.1,231.14 L102.34,231.83 L102.59,232.5 L102.59,232.11 L102.6,230.98 L102.62,229.25 L102.64,227.12 L102.67,224.8 L102.7,222.5 L102.74,220.38 L102.79,218.54 L102.84,217.01 L102.9,215.79 L102.97,214.84 L103.04,214.1 L103.12,213.52 L103.21,213.05 L103.3,212.65 L103.4,212.3 L103.5,211.97 L103.61,211.66 L103.73,211.35 L103.85,211.06 L103.98,210.78 L104.11,210.5 L104.26,210.24 L104.4,209.99 L104.56,209.74 L104.72,209.52 L104.89,209.3 L105.06,209.1 L105.24,208.91 L105.43,208.73 L105.62,208.57 L105.82,208.42 L106.02,208.28 L106.23,208.15 L106.45,208.04 L106.67,207.93 L106.9,207.84 L107.14,207.76 L107.38,207.68 L107.63,207.62 L107.89,207.56 L108.15,207.51 L108.42,207.46 L108.69,207.42 L108.97,207.39 L109.26,207.36 L109.55,207.34 L109.85,207.31 L110.16,207.29 L110.47,207.28 L110.79,207.27 L111.11,207.25 L111.45,207.24 L111.78,207.24 L112.13,207.23 L112.48,207.22 L112.83,207.22 L113.2,207.22 L113.56,207.21 L113.94,207.21 L113.94,207.7 L114.01,208.31 L114.11,209.19 L114.22,210.19 L114.35,211.26 L114.49,212.39 L114.64,213.55 L114.8,214.73 L114.96,215.92 L115.13,217.11 L115.3,218.3 L115.48,219.47 L115.66,220.63 L115.85,221.78 L116.05,222.9 L116.25,223.99 L116.45,225.06 L116.65,226.11 L116.86,227.12 L117.07,228.1 L117.29,229.06 L117.51,229.98 L117.73,230.87 L117.96,231.73 L118.19,232.56 L118.42,233.36 L118.65,234.13 L118.89,234.87 L119.13,235.57 L119.37,236.25 L119.62,236.9 L119.62,236.52 L119.63,235.44 L119.64,233.78 L119.67,231.74 L119.69,229.51 L119.73,227.3 L119.77,225.26 L119.82,223.48 L119.87,222 L119.93,220.82 L120,219.88 L120.07,219.15 L120.15,218.58 L120.23,218.1 L120.33,217.69 L120.42,217.33 L120.53,216.98 L120.64,216.66 L120.75,216.34 L120.88,216.04 L121.01,215.74 L121.14,215.46 L121.28,215.18 L121.43,214.91 L121.59,214.66 L121.75,214.42 L121.91,214.19 L122.09,213.98 L122.27,213.78 L122.45,213.6 L122.65,213.43 L122.85,213.27 L123.05,213.13 L123.26,213 L123.48,212.88 L123.7,212.77 L123.93,212.67 L124.17,212.58 L124.41,212.51 L124.66,212.44 L124.92,212.38 L125.18,212.32 L125.45,212.28 L125.72,212.23 L126,212.2 L126.29,212.17 L126.58,212.14 L126.88,212.12 L127.19,212.1 L127.5,212.08 L127.82,212.07 L128.14,212.06 L128.47,212.05 L128.81,212.04 L129.15,212.03 L129.5,212.03 L129.86,212.02 L130.22,212.02 L130.59,212.01 L130.97,212.01 L130.97,212.5 L131.04,213.12 L131.14,214 L131.25,215.01 L131.38,216.1 L131.52,217.24 L131.67,218.41 L131.82,219.6 L131.99,220.8 L132.15,222.01 L132.33,223.21 L132.51,224.39 L132.69,225.57 L132.88,226.72 L133.08,227.85 L133.27,228.96 L133.47,230.04 L133.68,231.09 L133.89,232.12 L134.1,233.11 L134.32,234.08 L134.54,235.01 L134.76,235.91 L134.99,236.78 L135.21,237.62 L135.45,238.42 L135.68,239.2 L135.92,239.94 L136.16,240.66 L136.4,241.34 L136.64,242 L136.65,241.62 L136.66,240.53 L136.67,238.85 L136.69,236.79 L136.72,234.54 L136.76,232.31 L136.8,230.24 L136.85,228.43 L136.9,226.92 L136.96,225.71 L137.03,224.75 L137.1,223.99 L137.18,223.38 L137.26,222.87 L137.35,222.43 L137.45,222.04 L137.56,221.67 L137.67,221.31 L137.78,220.97 L137.91,220.63 L138.03,220.31 L138.17,219.99 L138.31,219.69 L138.46,219.4 L138.61,219.12 L138.78,218.86 L138.94,218.61 L139.12,218.37 L139.3,218.16 L139.48,217.95 L139.67,217.77 L139.87,217.59 L140.08,217.44 L140.29,217.29 L140.51,217.16 L140.73,217.04 L140.96,216.94 L141.2,216.84 L141.44,216.76 L141.69,216.68 L141.94,216.61 L142.21,216.55 L142.47,216.5 L142.75,216.46 L143.03,216.42 L143.32,216.38 L143.61,216.36 L143.91,216.33 L144.22,216.31 L144.53,216.29 L144.85,216.28 L145.17,216.26 L145.5,216.25 L145.84,216.24 L146.18,216.23 L146.53,216.23 L146.89,216.22 L147.25,216.22 L147.62,216.21 L148,216.21 L148,216.7 L148.06,217.39 L148.16,218.39 L148.28,219.53 L148.41,220.75 L148.55,222.03 L148.7,223.35 L148.85,224.69 L149.01,226.05 L149.18,227.4 L149.36,228.75 L149.54,230.09 L149.72,231.4 L149.91,232.7 L150.1,233.98 L150.3,235.22 L150.5,236.44 L150.71,237.63 L150.92,238.78 L151.13,239.9 L151.35,240.98 L151.57,242.03 L151.79,243.05 L152.01,244.03 L152.24,244.97 L152.47,245.88 L152.71,246.75 L152.95,247.59 L153.19,248.39 L153.43,249.16 L153.67,249.9 L153.68,249.47 L153.68,248.23 L153.7,246.32 L153.72,243.97 L153.75,241.41 L153.79,238.86 L153.83,236.48 L153.87,234.4 L153.93,232.65 L153.99,231.22 L154.05,230.07 L154.13,229.16 L154.2,228.4 L154.29,227.76 L154.38,227.2 L154.48,226.68 L154.58,226.19 L154.69,225.72 L154.81,225.26 L154.93,224.81 L155.06,224.38 L155.2,223.96 L155.34,223.56 L155.49,223.17 L155.64,222.8 L155.8,222.45 L155.97,222.11 L156.14,221.8 L156.32,221.51 L156.51,221.24 L156.7,220.99 L156.9,220.76 L157.11,220.55 L157.32,220.36 L157.53,220.18 L157.76,220.02 L157.99,219.88 L158.23,219.76 L158.47,219.64 L158.72,219.54 L158.97,219.45 L159.23,219.37 L159.5,219.3 L159.78,219.24 L160.06,219.19 L160.34,219.15 L160.64,219.11 L160.94,219.07 L161.24,219.05 L161.56,219.02 L161.87,219 L162.2,218.98 L162.53,218.97 L162.87,218.96 L163.21,218.95 L163.56,218.94 L163.92,218.93 L164.28,218.92 L164.65,218.92 L165.02,218.92" fill="none" stroke="#3ccfc6" stroke-width="1.35" stroke-linejoin="round" stroke-linecap="butt" stroke-dasharray="3.6 1.5"/>
<path d="M29.3,173.3 L29.3,173.3 L29.37,174.17 L29.47,175.41 L29.58,176.81 L29.71,178.29 L29.85,179.81 L30,181.34 L30.16,182.87 L30.32,184.39 L30.49,185.87 L30.66,187.31 L30.84,188.7 L31.02,190.05 L31.21,191.34 L31.41,192.58 L31.61,193.75 L31.81,194.87 L32.01,195.94 L32.22,196.94 L32.43,197.89 L32.65,198.78 L32.87,199.62 L33.09,200.41 L33.32,201.15 L33.55,201.84 L33.78,202.49 L34.01,203.09 L34.25,203.65 L34.49,204.17 L34.73,204.65 L34.98,205.1 L34.98,204.7 L34.99,203.56 L35,201.81 L35.03,199.66 L35.05,197.34 L35.09,195.06 L35.13,192.98 L35.18,191.2 L35.23,189.76 L35.29,188.66 L35.36,187.84 L35.43,187.26 L35.51,186.85 L35.59,186.56 L35.69,186.34 L35.78,186.17 L35.89,186.03 L36,185.91 L36.11,185.8 L36.24,185.69 L36.37,185.59 L36.5,185.49 L36.64,185.39 L36.79,185.3 L36.95,185.22 L37.11,185.13 L37.27,185.05 L37.45,184.98 L37.63,184.91 L37.81,184.85 L38.01,184.79 L38.21,184.74 L38.41,184.69 L38.62,184.64 L38.84,184.6 L39.06,184.56 L39.29,184.53 L39.53,184.5 L39.77,184.47 L40.02,184.45 L40.28,184.43 L40.54,184.41 L40.81,184.39 L41.08,184.38 L41.36,184.37 L41.65,184.36 L41.94,184.35 L42.24,184.34 L42.55,184.33 L42.86,184.33 L43.18,184.32 L43.5,184.32 L43.83,184.32 L44.17,184.31 L44.51,184.31 L44.86,184.31 L45.22,184.31 L45.58,184.31 L45.95,184.3 L46.33,184.3 L46.33,184.8 L46.4,185.36 L46.5,186.16 L46.61,187.08 L46.74,188.07 L46.88,189.1 L47.03,190.17 L47.18,191.25 L47.35,192.34 L47.51,193.44 L47.69,194.53 L47.87,195.61 L48.05,196.67 L48.24,197.72 L48.44,198.75 L48.63,199.75 L48.83,200.74 L49.04,201.69 L49.25,202.62 L49.46,203.53 L49.68,204.4 L49.9,205.25 L50.12,206.07 L50.35,206.86 L50.57,207.62 L50.81,208.35 L51.04,209.06 L51.28,209.73 L51.52,210.38 L51.76,211 L52,211.6 L52.01,211.24 L52.02,210.21 L52.03,208.64 L52.05,206.7 L52.08,204.6 L52.12,202.52 L52.16,200.61 L52.21,198.96 L52.26,197.61 L52.32,196.54 L52.39,195.72 L52.46,195.11 L52.54,194.64 L52.62,194.27 L52.71,193.97 L52.81,193.72 L52.92,193.48 L53.03,193.27 L53.14,193.06 L53.27,192.85 L53.39,192.66 L53.53,192.47 L53.67,192.29 L53.82,192.11 L53.97,191.95 L54.14,191.79 L54.3,191.64 L54.48,191.5 L54.66,191.37 L54.84,191.25 L55.03,191.14 L55.23,191.04 L55.44,190.94 L55.65,190.85 L55.87,190.78 L56.09,190.7 L56.32,190.64 L56.56,190.58 L56.8,190.53 L57.05,190.49 L57.3,190.45 L57.57,190.41 L57.83,190.38 L58.11,190.35 L58.39,190.33 L58.68,190.31 L58.97,190.29 L59.27,190.28 L59.58,190.27 L59.89,190.25 L60.21,190.25 L60.53,190.24 L60.86,190.23 L61.2,190.23 L61.54,190.22 L61.89,190.22 L62.25,190.21 L62.61,190.21 L62.98,190.21 L63.36,190.21 L63.36,190.7 L63.42,191.24 L63.52,192.02 L63.64,192.9 L63.77,193.86 L63.91,194.86 L64.06,195.89 L64.21,196.94 L64.37,197.99 L64.54,199.05 L64.72,200.1 L64.9,201.14 L65.08,202.17 L65.27,203.18 L65.46,204.18 L65.66,205.15 L65.86,206.1 L66.07,207.03 L66.28,207.93 L66.49,208.8 L66.71,209.64 L66.93,210.46 L67.15,211.25 L67.37,212.02 L67.6,212.75 L67.83,213.46 L68.07,214.14 L68.31,214.8 L68.55,215.42 L68.79,216.02 L69.03,216.6 L69.04,216.28 L69.04,215.36 L69.06,213.96 L69.08,212.24 L69.11,210.36 L69.15,208.5 L69.19,206.79 L69.23,205.31 L69.29,204.08 L69.35,203.1 L69.41,202.35 L69.49,201.77 L69.56,201.32 L69.65,200.95 L69.74,200.65 L69.84,200.38 L69.94,200.14 L70.05,199.9 L70.17,199.68 L70.29,199.46 L70.42,199.25 L70.56,199.05 L70.7,198.85 L70.85,198.66 L71,198.49 L71.16,198.32 L71.33,198.16 L71.5,198 L71.68,197.86 L71.87,197.73 L72.06,197.61 L72.26,197.5 L72.47,197.4 L72.68,197.31 L72.89,197.22 L73.12,197.14 L73.35,197.08 L73.59,197.01 L73.83,196.96 L74.08,196.91 L74.33,196.87 L74.59,196.83 L74.86,196.8 L75.14,196.77 L75.42,196.74 L75.7,196.72 L76,196.7 L76.3,196.68 L76.6,196.67 L76.92,196.66 L77.23,196.65 L77.56,196.64 L77.89,196.63 L78.23,196.63 L78.57,196.62 L78.92,196.62 L79.28,196.61 L79.64,196.61 L80.01,196.61 L80.38,196.61 L80.38,197.1 L80.45,197.62 L80.55,198.36 L80.67,199.21 L80.8,200.13 L80.94,201.08 L81.08,202.07 L81.24,203.07 L81.4,204.08 L81.57,205.09 L81.74,206.1 L81.92,207.1 L82.11,208.08 L82.3,209.05 L82.49,210.01 L82.69,210.94 L82.89,211.85 L83.1,212.73 L83.31,213.59 L83.52,214.43 L83.73,215.24 L83.95,216.02 L84.18,216.78 L84.4,217.51 L84.63,218.22 L84.86,218.89 L85.1,219.55 L85.33,220.17 L85.57,220.77 L85.82,221.35 L86.06,221.9 L86.06,221.59 L86.07,220.7 L86.09,219.33 L86.11,217.64 L86.14,215.82 L86.17,214.01 L86.21,212.34 L86.26,210.89 L86.32,209.69 L86.38,208.74 L86.44,208 L86.51,207.44 L86.59,207 L86.68,206.64 L86.77,206.35 L86.87,206.09 L86.97,205.85 L87.08,205.62 L87.2,205.4 L87.32,205.19 L87.45,204.99 L87.59,204.79 L87.73,204.6 L87.88,204.41 L88.03,204.24 L88.19,204.07 L88.36,203.92 L88.53,203.77 L88.71,203.63 L88.9,203.5 L89.09,203.39 L89.29,203.28 L89.49,203.18 L89.71,203.09 L89.92,203.01 L90.15,202.93 L90.38,202.86 L90.61,202.8 L90.86,202.75 L91.11,202.7 L91.36,202.66 L91.62,202.62 L91.89,202.59 L92.16,202.56 L92.45,202.54 L92.73,202.52 L93.03,202.5 L93.33,202.48 L93.63,202.47 L93.94,202.46 L94.26,202.45 L94.59,202.44 L94.92,202.43 L95.26,202.43 L95.6,202.42 L95.95,202.42 L96.31,202.41 L96.67,202.41 L97.04,202.41 L97.41,202.41 L97.41,202.9 L97.48,203.42 L97.58,204.16 L97.7,205.01 L97.83,205.93 L97.96,206.88 L98.11,207.87 L98.27,208.87 L98.43,209.88 L98.6,210.89 L98.77,211.9 L98.95,212.9 L99.14,213.88 L99.33,214.85 L99.52,215.81 L99.72,216.74 L99.92,217.65 L100.12,218.53 L100.33,219.39 L100.55,220.23 L100.76,221.04 L100.98,221.82 L101.2,222.58 L101.43,223.31 L101.66,224.02 L101.89,224.69 L102.12,225.35 L102.36,225.97 L102.6,226.57 L102.84,227.15 L103.09,227.7 L103.09,227.39 L103.1,226.5 L103.12,225.13 L103.14,223.44 L103.17,221.61 L103.2,219.8 L103.24,218.12 L103.29,216.66 L103.34,215.46 L103.4,214.49 L103.47,213.74 L103.54,213.16 L103.62,212.7 L103.71,212.33 L103.8,212.01 L103.9,211.73 L104,211.47 L104.11,211.22 L104.23,210.98 L104.35,210.75 L104.48,210.53 L104.61,210.31 L104.76,210.1 L104.9,209.9 L105.06,209.71 L105.22,209.53 L105.39,209.36 L105.56,209.2 L105.74,209.05 L105.93,208.91 L106.12,208.78 L106.32,208.66 L106.52,208.55 L106.73,208.45 L106.95,208.36 L107.17,208.28 L107.4,208.21 L107.64,208.14 L107.88,208.08 L108.13,208.03 L108.39,207.98 L108.65,207.94 L108.92,207.91 L109.19,207.88 L109.47,207.85 L109.76,207.83 L110.05,207.81 L110.35,207.79 L110.66,207.78 L110.97,207.76 L111.29,207.75 L111.61,207.74 L111.95,207.74 L112.28,207.73 L112.63,207.72 L112.98,207.72 L113.33,207.72 L113.7,207.71 L114.06,207.71 L114.44,207.71 L114.44,208.2 L114.51,208.73 L114.61,209.48 L114.72,210.34 L114.85,211.27 L114.99,212.25 L115.14,213.25 L115.3,214.27 L115.46,215.29 L115.63,216.32 L115.8,217.35 L115.98,218.36 L116.16,219.36 L116.35,220.35 L116.55,221.31 L116.75,222.26 L116.95,223.18 L117.15,224.08 L117.36,224.96 L117.57,225.81 L117.79,226.63 L118.01,227.43 L118.23,228.2 L118.46,228.94 L118.69,229.66 L118.92,230.35 L119.15,231.01 L119.39,231.64 L119.63,232.25 L119.87,232.84 L120.12,233.4 L120.12,233.09 L120.13,232.19 L120.14,230.81 L120.17,229.11 L120.19,227.26 L120.23,225.42 L120.27,223.73 L120.32,222.25 L120.37,221.02 L120.43,220.03 L120.5,219.25 L120.57,218.65 L120.65,218.17 L120.73,217.77 L120.83,217.43 L120.92,217.13 L121.03,216.84 L121.14,216.57 L121.25,216.31 L121.38,216.06 L121.51,215.81 L121.64,215.57 L121.78,215.34 L121.93,215.12 L122.09,214.91 L122.25,214.71 L122.41,214.52 L122.59,214.35 L122.77,214.18 L122.95,214.03 L123.15,213.89 L123.35,213.76 L123.55,213.64 L123.76,213.53 L123.98,213.43 L124.2,213.34 L124.43,213.26 L124.67,213.19 L124.91,213.12 L125.16,213.06 L125.42,213.01 L125.68,212.97 L125.95,212.93 L126.22,212.9 L126.5,212.87 L126.79,212.84 L127.08,212.82 L127.38,212.8 L127.69,212.78 L128,212.77 L128.32,212.76 L128.64,212.75 L128.97,212.74 L129.31,212.73 L129.65,212.73 L130,212.72 L130.36,212.72 L130.72,212.71 L131.09,212.71 L131.47,212.71 L131.47,213.2 L131.54,213.72 L131.64,214.46 L131.75,215.31 L131.88,216.23 L132.02,217.18 L132.17,218.17 L132.32,219.17 L132.49,220.18 L132.65,221.19 L132.83,222.2 L133.01,223.2 L133.19,224.18 L133.38,225.15 L133.58,226.11 L133.77,227.04 L133.97,227.95 L134.18,228.83 L134.39,229.69 L134.6,230.53 L134.82,231.34 L135.04,232.12 L135.26,232.88 L135.49,233.61 L135.71,234.32 L135.95,234.99 L136.18,235.65 L136.42,236.27 L136.66,236.87 L136.9,237.45 L137.14,238 L137.15,237.69 L137.16,236.81 L137.17,235.45 L137.19,233.78 L137.22,231.96 L137.26,230.15 L137.3,228.47 L137.35,227.01 L137.4,225.79 L137.46,224.8 L137.53,224.02 L137.6,223.41 L137.68,222.91 L137.76,222.51 L137.85,222.15 L137.95,221.83 L138.06,221.53 L138.17,221.24 L138.28,220.96 L138.41,220.69 L138.53,220.43 L138.67,220.17 L138.81,219.92 L138.96,219.69 L139.11,219.46 L139.28,219.25 L139.44,219.05 L139.62,218.86 L139.8,218.69 L139.98,218.52 L140.17,218.37 L140.37,218.23 L140.58,218.1 L140.79,217.98 L141.01,217.88 L141.23,217.78 L141.46,217.7 L141.7,217.62 L141.94,217.55 L142.19,217.49 L142.44,217.43 L142.71,217.39 L142.97,217.35 L143.25,217.31 L143.53,217.28 L143.82,217.25 L144.11,217.23 L144.41,217.21 L144.72,217.19 L145.03,217.17 L145.35,217.16 L145.67,217.15 L146,217.14 L146.34,217.13 L146.68,217.13 L147.03,217.12 L147.39,217.12 L147.75,217.11 L148.12,217.11 L148.5,217.11 L148.5,217.6 L148.56,218.2 L148.66,219.06 L148.78,220.04 L148.91,221.1 L149.05,222.21 L149.2,223.35 L149.35,224.51 L149.51,225.68 L149.68,226.85 L149.86,228.02 L150.04,229.17 L150.22,230.31 L150.41,231.43 L150.6,232.54 L150.8,233.61 L151,234.67 L151.21,235.69 L151.42,236.69 L151.63,237.65 L151.85,238.59 L152.07,239.5 L152.29,240.38 L152.51,241.22 L152.74,242.04 L152.97,242.82 L153.21,243.58 L153.45,244.3 L153.69,245 L153.93,245.66 L154.17,246.3 L154.18,245.98 L154.18,245.04 L154.2,243.61 L154.22,241.84 L154.25,239.92 L154.29,238 L154.33,236.22 L154.37,234.65 L154.43,233.33 L154.49,232.26 L154.55,231.4 L154.63,230.71 L154.7,230.14 L154.79,229.66 L154.88,229.24 L154.98,228.85 L155.08,228.48 L155.19,228.13 L155.31,227.78 L155.43,227.45 L155.56,227.12 L155.7,226.8 L155.84,226.5 L155.99,226.21 L156.14,225.93 L156.3,225.67 L156.47,225.42 L156.64,225.18 L156.82,224.96 L157.01,224.76 L157.2,224.57 L157.4,224.4 L157.61,224.24 L157.82,224.1 L158.03,223.96 L158.26,223.85 L158.49,223.74 L158.73,223.64 L158.97,223.56 L159.22,223.48 L159.47,223.41 L159.73,223.36 L160,223.3 L160.28,223.26 L160.56,223.22 L160.84,223.19 L161.14,223.16 L161.44,223.13 L161.74,223.11 L162.06,223.09 L162.37,223.08 L162.7,223.06 L163.03,223.05 L163.37,223.04 L163.71,223.03 L164.06,223.03 L164.42,223.02 L164.78,223.02 L165.15,223.01 L165.52,223.01" fill="none" stroke="#3c3c3c" stroke-width="1.45" stroke-linejoin="round" stroke-linecap="butt"/>
<path d="M29.3,271.8 L34.98,271.8 L34.98,303.2 L46.33,303.2 L46.33,271.8 L52,271.8 L52,303.2 L63.36,303.2 L63.36,271.8 L69.03,271.8 L69.03,303.2 L80.38,303.2 L80.38,271.8 L86.06,271.8 L86.06,303.2 L97.41,303.2 L97.41,271.8 L103.09,271.8 L103.09,303.2 L114.44,303.2 L114.44,271.8 L120.12,271.8 L120.12,303.2 L131.47,303.2 L131.47,271.8 L137.14,271.8 L137.14,303.2 L148.5,303.2 L148.5,271.8 L154.17,271.8 L154.17,303.2 L165.52,303.2" fill="none" stroke="#fb4250" stroke-width="1.3" stroke-linejoin="round" stroke-linecap="butt"/>
<rect x="86.3" y="172.3" width="82.9" height="20.7" rx="1.5" fill="#fff" fill-opacity="0.8" stroke="#f2f2f2" stroke-width="0.7"/>
<path d="M88.3,178 L102.1,178" fill="none" stroke="#3ccfc6" stroke-width="1.4" stroke-linejoin="round" stroke-linecap="butt" stroke-dasharray="3.6 1.5"/>
<path d="M88.3,187.3 L102.1,187.3" fill="none" stroke="#3c3c3c" stroke-width="1.5" stroke-linejoin="round" stroke-linecap="butt"/>
<text x="0" y="0" font-size="7.5" text-anchor="start" dominant-baseline="central" fill="#444444" font-family='"Liberation Sans", sans-serif' font-weight="normal" stroke="#444444" stroke-width="0.06" transform="translate(107 178)" textLength="59.2" lengthAdjust="spacingAndGlyphs">Reference Voltage</text>
<text x="0" y="0" font-size="7.5" text-anchor="start" dominant-baseline="central" fill="#444444" font-family='"Liberation Sans", sans-serif' font-weight="normal" stroke="#444444" stroke-width="0.06" transform="translate(107 187.3)" textLength="46" lengthAdjust="spacingAndGlyphs">Model Voltage</text>
<text x="0" y="0" font-size="7.8" text-anchor="middle" dominant-baseline="central" fill="#363636" font-family='"Liberation Sans", sans-serif' font-weight="normal" stroke="#363636" stroke-width="0.1" transform="translate(97.2 316)" textLength="34.6" lengthAdjust="spacingAndGlyphs">Time (min)</text>
<text x="0" y="0" font-size="9.2" text-anchor="middle" dominant-baseline="central" fill="#363636" font-family='"Liberation Serif", serif' font-weight="bold" stroke="#363636" stroke-width="0" transform="translate(88.2 329.9)">(j)</text>
<rect x="198.9" y="169.3" width="156.4" height="84.1" fill="none" stroke="#bcbcbc" stroke-width="1.0"/>
<rect x="198.9" y="270" width="156.4" height="34.1" fill="none" stroke="#bcbcbc" stroke-width="1.0"/>
<text x="0" y="0" font-size="7.2" text-anchor="end" dominant-baseline="central" fill="#363636" font-family='"Liberation Sans", sans-serif' font-weight="normal" stroke="#363636" stroke-width="0.18" transform="translate(197.3 184.5) scale(1 1.12)">4.0</text>
<text x="0" y="0" font-size="7.2" text-anchor="end" dominant-baseline="central" fill="#363636" font-family='"Liberation Sans", sans-serif' font-weight="normal" stroke="#363636" stroke-width="0.18" transform="translate(197.3 208.4) scale(1 1.12)">3.8</text>
<text x="0" y="0" font-size="7.2" text-anchor="end" dominant-baseline="central" fill="#363636" font-family='"Liberation Sans", sans-serif' font-weight="normal" stroke="#363636" stroke-width="0.18" transform="translate(197.3 232.5) scale(1 1.12)">3.6</text>
<text x="0" y="0" font-size="7.2" text-anchor="middle" dominant-baseline="central" fill="#363636" font-family='"Liberation Sans", sans-serif' font-weight="normal" stroke="#363636" stroke-width="0.18" transform="translate(206 258.3) scale(1 1.12)">0</text>
<text x="0" y="0" font-size="7.2" text-anchor="middle" dominant-baseline="central" fill="#363636" font-family='"Liberation Sans", sans-serif' font-weight="normal" stroke="#363636" stroke-width="0.18" transform="translate(206 308.9) scale(1 1.12)">0</text>
<text x="0" y="0" font-size="7.2" text-anchor="middle" dominant-baseline="central" fill="#363636" font-family='"Liberation Sans", sans-serif' font-weight="normal" stroke="#363636" stroke-width="0.18" transform="translate(235.7 258.3) scale(1 1.12)">50</text>
<text x="0" y="0" font-size="7.2" text-anchor="middle" dominant-baseline="central" fill="#363636" font-family='"Liberation Sans", sans-serif' font-weight="normal" stroke="#363636" stroke-width="0.18" transform="translate(235.7 308.9) scale(1 1.12)">50</text>
<text x="0" y="0" font-size="7.2" text-anchor="middle" dominant-baseline="central" fill="#363636" font-family='"Liberation Sans", sans-serif' font-weight="normal" stroke="#363636" stroke-width="0.18" transform="translate(265.4 258.3) scale(1 1.12)">100</text>
<text x="0" y="0" font-size="7.2" text-anchor="middle" dominant-baseline="central" fill="#363636" font-family='"Liberation Sans", sans-serif' font-weight="normal" stroke="#363636" stroke-width="0.18" transform="translate(265.4 308.9) scale(1 1.12)">100</text>
<text x="0" y="0" font-size="7.2" text-anchor="middle" dominant-baseline="central" fill="#363636" font-family='"Liberation Sans", sans-serif' font-weight="normal" stroke="#363636" stroke-width="0.18" transform="translate(295.1 258.3) scale(1 1.12)">150</text>
<text x="0" y="0" font-size="7.2" text-anchor="middle" dominant-baseline="central" fill="#363636" font-family='"Liberation Sans", sans-serif' font-weight="normal" stroke="#363636" stroke-width="0.18" transform="translate(295.1 308.9) scale(1 1.12)">150</text>
<text x="0" y="0" font-size="7.2" text-anchor="middle" dominant-baseline="central" fill="#363636" font-family='"Liberation Sans", sans-serif' font-weight="normal" stroke="#363636" stroke-width="0.18" transform="translate(324.8 258.3) scale(1 1.12)">200</text>
<text x="0" y="0" font-size="7.2" text-anchor="middle" dominant-baseline="central" fill="#363636" font-family='"Liberation Sans", sans-serif' font-weight="normal" stroke="#363636" stroke-width="0.18" transform="translate(324.8 308.9) scale(1 1.12)">200</text>
<text x="0" y="0" font-size="7.2" text-anchor="middle" dominant-baseline="central" fill="#363636" font-family='"Liberation Sans", sans-serif' font-weight="normal" stroke="#363636" stroke-width="0.18" transform="translate(354.5 258.3) scale(1 1.12)">250</text>
<text x="0" y="0" font-size="7.2" text-anchor="middle" dominant-baseline="central" fill="#363636" font-family='"Liberation Sans", sans-serif' font-weight="normal" stroke="#363636" stroke-width="0.18" transform="translate(354.5 308.9) scale(1 1.12)">250</text>
<text x="0" y="0" font-size="7.2" text-anchor="end" dominant-baseline="central" fill="#363636" font-family='"Liberation Sans", sans-serif' font-weight="normal" stroke="#363636" stroke-width="0.18" transform="translate(197.3 271.4) scale(1 1.12)">1</text>
<text x="0" y="0" font-size="7.2" text-anchor="end" dominant-baseline="central" fill="#363636" font-family='"Liberation Sans", sans-serif' font-weight="normal" stroke="#363636" stroke-width="0.18" transform="translate(197.3 303.1) scale(1 1.12)">0</text>
<path d="M205.5,173 L205.5,173 L205.57,173.71 L205.68,174.73 L205.8,175.87 L205.93,177.08 L206.08,178.32 L206.23,179.58 L206.4,180.83 L206.57,182.06 L206.74,183.27 L206.92,184.45 L207.11,185.59 L207.3,186.69 L207.5,187.75 L207.71,188.76 L207.91,189.72 L208.12,190.64 L208.34,191.51 L208.56,192.33 L208.78,193.1 L209.01,193.84 L209.24,194.52 L209.47,195.17 L209.71,195.77 L209.94,196.34 L210.19,196.86 L210.43,197.35 L210.68,197.81 L210.93,198.24 L211.18,198.63 L211.44,199 L211.44,198.7 L211.45,197.81 L211.47,196.42 L211.49,194.62 L211.52,192.53 L211.56,190.3 L211.6,188.05 L211.65,185.89 L211.71,183.89 L211.77,182.12 L211.84,180.6 L211.92,179.33 L212,178.29 L212.09,177.45 L212.18,176.79 L212.28,176.26 L212.39,175.84 L212.51,175.51 L212.63,175.23 L212.76,175 L212.9,174.8 L213.04,174.63 L213.19,174.47 L213.34,174.34 L213.5,174.22 L213.67,174.11 L213.85,174.01 L214.03,173.92 L214.22,173.85 L214.41,173.78 L214.61,173.72 L214.82,173.67 L215.03,173.62 L215.25,173.59 L215.48,173.55 L215.72,173.53 L215.96,173.5 L216.21,173.48 L216.46,173.47 L216.72,173.45 L216.99,173.44 L217.26,173.43 L217.54,173.43 L217.83,173.42 L218.12,173.42 L218.42,173.41 L218.73,173.41 L219.04,173.41 L219.36,173.41 L219.69,173.4 L220.02,173.4 L220.36,173.4 L220.71,173.4 L221.06,173.4 L221.42,173.4 L221.79,173.4 L222.16,173.4 L222.54,173.4 L222.93,173.4 L223.32,173.4 L223.32,178.4 L223.39,179.17 L223.5,180.26 L223.62,181.5 L223.75,182.83 L223.9,184.2 L224.05,185.6 L224.22,187 L224.39,188.4 L224.56,189.79 L224.74,191.15 L224.93,192.48 L225.12,193.78 L225.32,195.04 L225.53,196.26 L225.73,197.44 L225.94,198.57 L226.16,199.66 L226.38,200.7 L226.6,201.69 L226.83,202.64 L227.06,203.54 L227.29,204.4 L227.53,205.21 L227.76,205.99 L228.01,206.72 L228.25,207.41 L228.5,208.06 L228.75,208.68 L229,209.26 L229.26,209.8 L229.26,209.57 L229.27,208.89 L229.29,207.81 L229.31,206.42 L229.34,204.81 L229.38,203.08 L229.42,201.32 L229.47,199.63 L229.53,198.05 L229.59,196.62 L229.66,195.38 L229.74,194.31 L229.82,193.41 L229.91,192.65 L230,192.01 L230.1,191.47 L230.21,191 L230.33,190.58 L230.45,190.2 L230.58,189.84 L230.72,189.51 L230.86,189.19 L231.01,188.88 L231.16,188.58 L231.32,188.29 L231.49,188.01 L231.67,187.73 L231.85,187.47 L232.04,187.23 L232.23,186.99 L232.43,186.76 L232.64,186.55 L232.85,186.34 L233.07,186.15 L233.3,185.97 L233.54,185.81 L233.78,185.65 L234.03,185.51 L234.28,185.38 L234.54,185.25 L234.81,185.14 L235.08,185.04 L235.36,184.95 L235.65,184.86 L235.94,184.78 L236.24,184.71 L236.55,184.65 L236.86,184.6 L237.18,184.55 L237.51,184.5 L237.84,184.46 L238.18,184.43 L238.53,184.4 L238.88,184.37 L239.24,184.35 L239.61,184.32 L239.98,184.31 L240.36,184.29 L240.75,184.28 L241.14,184.27 L241.14,189.2 L241.21,189.92 L241.32,190.94 L241.44,192.09 L241.57,193.33 L241.72,194.61 L241.87,195.92 L242.04,197.23 L242.21,198.53 L242.38,199.83 L242.56,201.1 L242.75,202.34 L242.94,203.55 L243.14,204.73 L243.35,205.87 L243.55,206.97 L243.76,208.02 L243.98,209.03 L244.2,210.01 L244.42,210.93 L244.65,211.82 L244.88,212.66 L245.11,213.46 L245.35,214.22 L245.58,214.94 L245.83,215.62 L246.07,216.27 L246.32,216.88 L246.57,217.45 L246.82,217.99 L247.08,218.5 L247.08,218.27 L247.09,217.6 L247.11,216.54 L247.13,215.18 L247.16,213.59 L247.2,211.88 L247.24,210.16 L247.29,208.48 L247.35,206.93 L247.41,205.53 L247.48,204.31 L247.56,203.26 L247.64,202.37 L247.73,201.63 L247.82,201 L247.92,200.46 L248.03,199.99 L248.15,199.57 L248.27,199.19 L248.4,198.83 L248.54,198.49 L248.68,198.16 L248.83,197.84 L248.98,197.53 L249.14,197.23 L249.31,196.93 L249.49,196.65 L249.67,196.37 L249.86,196.1 L250.05,195.84 L250.25,195.59 L250.46,195.35 L250.67,195.12 L250.89,194.91 L251.12,194.7 L251.36,194.51 L251.6,194.33 L251.85,194.16 L252.1,194 L252.36,193.85 L252.63,193.71 L252.9,193.58 L253.18,193.46 L253.47,193.36 L253.76,193.26 L254.06,193.17 L254.37,193.08 L254.68,193.01 L255,192.94 L255.33,192.88 L255.66,192.82 L256,192.77 L256.35,192.73 L256.7,192.69 L257.06,192.65 L257.43,192.62 L257.8,192.59 L258.18,192.56 L258.57,192.54 L258.96,192.52 L258.96,197.4 L259.03,198.07 L259.14,199.04 L259.26,200.13 L259.39,201.29 L259.54,202.5 L259.69,203.73 L259.86,204.96 L260.03,206.19 L260.2,207.41 L260.38,208.61 L260.57,209.78 L260.76,210.92 L260.96,212.03 L261.17,213.1 L261.37,214.13 L261.58,215.13 L261.8,216.08 L262.02,217 L262.24,217.87 L262.47,218.71 L262.7,219.5 L262.93,220.25 L263.17,220.97 L263.4,221.65 L263.65,222.29 L263.89,222.9 L264.14,223.47 L264.39,224.01 L264.64,224.52 L264.9,225 L264.9,224.78 L264.91,224.14 L264.93,223.12 L264.95,221.8 L264.98,220.28 L265.02,218.64 L265.06,216.98 L265.11,215.37 L265.17,213.87 L265.23,212.53 L265.3,211.35 L265.38,210.34 L265.46,209.49 L265.55,208.77 L265.64,208.17 L265.74,207.65 L265.85,207.2 L265.97,206.8 L266.09,206.43 L266.22,206.09 L266.36,205.76 L266.5,205.44 L266.65,205.13 L266.8,204.84 L266.96,204.54 L267.13,204.26 L267.31,203.98 L267.49,203.71 L267.68,203.45 L267.87,203.21 L268.07,202.97 L268.28,202.74 L268.49,202.52 L268.71,202.31 L268.94,202.11 L269.18,201.93 L269.42,201.75 L269.67,201.59 L269.92,201.44 L270.18,201.29 L270.45,201.16 L270.72,201.04 L271,200.92 L271.29,200.82 L271.58,200.72 L271.88,200.64 L272.19,200.56 L272.5,200.48 L272.82,200.42 L273.15,200.36 L273.48,200.3 L273.82,200.26 L274.17,200.21 L274.52,200.17 L274.88,200.14 L275.25,200.11 L275.62,200.08 L276,200.06 L276.39,200.04 L276.78,200.02 L276.78,204.9 L276.85,205.55 L276.96,206.48 L277.08,207.53 L277.21,208.65 L277.36,209.81 L277.51,211 L277.68,212.19 L277.85,213.37 L278.02,214.55 L278.2,215.7 L278.39,216.83 L278.58,217.93 L278.78,219 L278.99,220.03 L279.19,221.03 L279.4,221.99 L279.62,222.91 L279.84,223.79 L280.06,224.63 L280.29,225.43 L280.52,226.2 L280.75,226.93 L280.99,227.62 L281.22,228.27 L281.47,228.89 L281.71,229.47 L281.96,230.03 L282.21,230.55 L282.46,231.04 L282.72,231.5 L282.72,231.27 L282.73,230.6 L282.75,229.54 L282.77,228.18 L282.8,226.59 L282.84,224.88 L282.88,223.16 L282.93,221.48 L282.99,219.93 L283.05,218.53 L283.12,217.31 L283.2,216.26 L283.28,215.37 L283.37,214.63 L283.46,214 L283.56,213.46 L283.67,212.99 L283.79,212.57 L283.91,212.19 L284.04,211.83 L284.18,211.49 L284.32,211.16 L284.47,210.84 L284.62,210.53 L284.78,210.23 L284.95,209.93 L285.13,209.65 L285.31,209.37 L285.5,209.1 L285.69,208.84 L285.89,208.59 L286.1,208.35 L286.31,208.12 L286.53,207.91 L286.76,207.7 L287,207.51 L287.24,207.33 L287.49,207.16 L287.74,207 L288,206.85 L288.27,206.71 L288.54,206.58 L288.82,206.46 L289.11,206.36 L289.4,206.26 L289.7,206.17 L290.01,206.08 L290.32,206.01 L290.64,205.94 L290.97,205.88 L291.3,205.82 L291.64,205.77 L291.99,205.73 L292.34,205.69 L292.7,205.65 L293.07,205.62 L293.44,205.59 L293.82,205.56 L294.21,205.54 L294.6,205.52 L294.6,210.4 L294.67,211.06 L294.78,212.01 L294.9,213.08 L295.03,214.22 L295.18,215.4 L295.33,216.61 L295.5,217.82 L295.67,219.03 L295.84,220.23 L296.02,221.41 L296.21,222.56 L296.4,223.68 L296.6,224.76 L296.81,225.82 L297.01,226.83 L297.22,227.81 L297.44,228.75 L297.66,229.64 L297.88,230.5 L298.11,231.32 L298.34,232.1 L298.57,232.84 L298.81,233.54 L299.04,234.21 L299.29,234.84 L299.53,235.44 L299.78,236 L300.03,236.53 L300.28,237.03 L300.54,237.5 L300.54,237.26 L300.55,236.55 L300.57,235.44 L300.59,234 L300.62,232.33 L300.66,230.53 L300.7,228.71 L300.75,226.95 L300.81,225.31 L300.87,223.84 L300.94,222.55 L301.02,221.44 L301.1,220.51 L301.19,219.72 L301.28,219.06 L301.38,218.49 L301.49,218 L301.61,217.56 L301.73,217.15 L301.86,216.78 L302,216.42 L302.14,216.07 L302.29,215.74 L302.44,215.41 L302.6,215.09 L302.77,214.78 L302.95,214.47 L303.13,214.18 L303.32,213.89 L303.51,213.62 L303.71,213.36 L303.92,213.11 L304.13,212.87 L304.35,212.64 L304.58,212.42 L304.82,212.22 L305.06,212.03 L305.31,211.85 L305.56,211.68 L305.82,211.53 L306.09,211.38 L306.36,211.25 L306.64,211.12 L306.93,211.01 L307.22,210.9 L307.52,210.81 L307.83,210.72 L308.14,210.64 L308.46,210.57 L308.79,210.5 L309.12,210.44 L309.46,210.39 L309.81,210.34 L310.16,210.3 L310.52,210.26 L310.89,210.23 L311.26,210.2 L311.64,210.17 L312.03,210.15 L312.42,210.13 L312.42,215 L312.49,215.67 L312.6,216.63 L312.72,217.71 L312.85,218.86 L313,220.06 L313.15,221.28 L313.32,222.51 L313.49,223.73 L313.66,224.94 L313.84,226.13 L314.03,227.29 L314.22,228.42 L314.42,229.52 L314.63,230.59 L314.83,231.61 L315.04,232.6 L315.26,233.55 L315.48,234.46 L315.7,235.32 L315.93,236.15 L316.16,236.94 L316.39,237.69 L316.63,238.4 L316.86,239.07 L317.11,239.71 L317.35,240.31 L317.6,240.88 L317.85,241.42 L318.1,241.92 L318.36,242.4 L318.36,242.14 L318.37,241.39 L318.39,240.2 L318.41,238.65 L318.44,236.87 L318.48,234.95 L318.52,233 L318.57,231.12 L318.63,229.37 L318.69,227.79 L318.76,226.41 L318.84,225.23 L318.92,224.23 L319.01,223.39 L319.1,222.68 L319.2,222.08 L319.31,221.55 L319.43,221.08 L319.55,220.65 L319.68,220.25 L319.82,219.86 L319.96,219.49 L320.11,219.13 L320.26,218.78 L320.42,218.44 L320.59,218.11 L320.77,217.78 L320.95,217.47 L321.14,217.16 L321.33,216.87 L321.53,216.59 L321.74,216.32 L321.95,216.07 L322.17,215.82 L322.4,215.59 L322.64,215.37 L322.88,215.17 L323.13,214.98 L323.38,214.8 L323.64,214.63 L323.91,214.48 L324.18,214.33 L324.46,214.2 L324.75,214.08 L325.04,213.97 L325.34,213.86 L325.65,213.77 L325.96,213.68 L326.28,213.61 L326.61,213.54 L326.94,213.47 L327.28,213.42 L327.63,213.37 L327.98,213.32 L328.34,213.28 L328.71,213.24 L329.08,213.21 L329.46,213.18 L329.85,213.16 L330.24,213.14 L330.24,218 L330.31,218.78 L330.42,219.89 L330.54,221.15 L330.67,222.5 L330.82,223.89 L330.97,225.31 L331.14,226.74 L331.31,228.16 L331.48,229.57 L331.66,230.95 L331.85,232.31 L332.04,233.63 L332.24,234.91 L332.45,236.15 L332.65,237.34 L332.86,238.49 L333.08,239.59 L333.3,240.65 L333.52,241.66 L333.75,242.62 L333.98,243.54 L334.21,244.41 L334.45,245.24 L334.68,246.03 L334.93,246.77 L335.17,247.47 L335.42,248.13 L335.67,248.76 L335.92,249.35 L336.18,249.9 L336.18,249.61 L336.19,248.75 L336.21,247.4 L336.23,245.65 L336.26,243.62 L336.3,241.43 L336.34,239.22 L336.39,237.08 L336.45,235.09 L336.51,233.31 L336.58,231.74 L336.66,230.4 L336.74,229.26 L336.83,228.31 L336.92,227.5 L337.02,226.81 L337.13,226.21 L337.25,225.68 L337.37,225.19 L337.5,224.73 L337.64,224.29 L337.78,223.87 L337.93,223.47 L338.08,223.07 L338.24,222.68 L338.41,222.3 L338.59,221.93 L338.77,221.58 L338.96,221.23 L339.15,220.9 L339.35,220.58 L339.56,220.27 L339.77,219.98 L339.99,219.71 L340.22,219.44 L340.46,219.2 L340.7,218.96 L340.95,218.75 L341.2,218.54 L341.46,218.35 L341.73,218.18 L342,218.01 L342.28,217.86 L342.57,217.72 L342.86,217.6 L343.16,217.48 L343.47,217.37 L343.78,217.28 L344.1,217.19 L344.43,217.11 L344.76,217.04 L345.1,216.97 L345.45,216.92 L345.8,216.87 L346.16,216.82 L346.53,216.78 L346.9,216.74 L347.28,216.71 L347.67,216.68 L348.06,216.66" fill="none" stroke="#3ccfc6" stroke-width="1.35" stroke-linejoin="round" stroke-linecap="butt" stroke-dasharray="3.6 1.5"/>
<path d="M206,173 L206,173 L206.07,173.68 L206.18,174.64 L206.3,175.72 L206.43,176.87 L206.58,178.05 L206.73,179.25 L206.9,180.44 L207.07,181.61 L207.24,182.76 L207.42,183.88 L207.61,184.96 L207.8,186.01 L208,187.01 L208.21,187.97 L208.41,188.89 L208.62,189.76 L208.84,190.58 L209.06,191.36 L209.28,192.1 L209.51,192.79 L209.74,193.45 L209.97,194.06 L210.21,194.63 L210.44,195.17 L210.69,195.67 L210.93,196.14 L211.18,196.57 L211.43,196.98 L211.68,197.35 L211.94,197.7 L211.94,197.44 L211.95,196.69 L211.97,195.49 L211.99,193.95 L212.02,192.17 L212.06,190.26 L212.1,188.33 L212.15,186.48 L212.21,184.78 L212.27,183.26 L212.34,181.96 L212.42,180.87 L212.5,179.98 L212.59,179.27 L212.68,178.7 L212.78,178.25 L212.89,177.89 L213.01,177.6 L213.13,177.37 L213.26,177.17 L213.4,177 L213.54,176.85 L213.69,176.72 L213.84,176.6 L214,176.5 L214.17,176.4 L214.35,176.32 L214.53,176.25 L214.72,176.18 L214.91,176.12 L215.11,176.07 L215.32,176.03 L215.53,175.99 L215.75,175.96 L215.98,175.93 L216.22,175.91 L216.46,175.89 L216.71,175.87 L216.96,175.86 L217.22,175.85 L217.49,175.84 L217.76,175.83 L218.04,175.82 L218.33,175.82 L218.62,175.81 L218.92,175.81 L219.23,175.81 L219.54,175.81 L219.86,175.81 L220.19,175.8 L220.52,175.8 L220.86,175.8 L221.21,175.8 L221.56,175.8 L221.92,175.8 L222.29,175.8 L222.66,175.8 L223.04,175.8 L223.43,175.8 L223.82,175.8 L223.82,180.8 L223.89,181.47 L224,182.42 L224.12,183.5 L224.25,184.65 L224.4,185.84 L224.55,187.06 L224.72,188.28 L224.89,189.5 L225.06,190.7 L225.24,191.89 L225.43,193.05 L225.62,194.17 L225.82,195.27 L226.03,196.33 L226.23,197.35 L226.44,198.34 L226.66,199.28 L226.88,200.18 L227.1,201.05 L227.33,201.87 L227.56,202.66 L227.79,203.41 L228.03,204.11 L228.26,204.79 L228.51,205.42 L228.75,206.02 L229,206.59 L229.25,207.12 L229.5,207.63 L229.76,208.1 L229.76,207.9 L229.77,207.32 L229.79,206.41 L229.81,205.22 L229.84,203.85 L229.88,202.38 L229.92,200.88 L229.97,199.44 L230.03,198.09 L230.09,196.88 L230.16,195.82 L230.24,194.91 L230.32,194.14 L230.41,193.5 L230.5,192.95 L230.6,192.49 L230.71,192.09 L230.83,191.73 L230.95,191.41 L231.08,191.11 L231.22,190.82 L231.36,190.55 L231.51,190.28 L231.66,190.03 L231.82,189.78 L231.99,189.54 L232.17,189.31 L232.35,189.09 L232.54,188.88 L232.73,188.67 L232.93,188.48 L233.14,188.3 L233.35,188.13 L233.57,187.96 L233.8,187.81 L234.04,187.67 L234.28,187.54 L234.53,187.41 L234.78,187.3 L235.04,187.2 L235.31,187.1 L235.58,187.01 L235.86,186.94 L236.15,186.86 L236.44,186.8 L236.74,186.74 L237.05,186.69 L237.36,186.64 L237.68,186.6 L238.01,186.56 L238.34,186.52 L238.68,186.49 L239.03,186.47 L239.38,186.44 L239.74,186.42 L240.11,186.41 L240.48,186.39 L240.86,186.38 L241.25,186.37 L241.64,186.36 L241.64,191.3 L241.71,191.94 L241.82,192.86 L241.94,193.9 L242.07,195.01 L242.22,196.16 L242.37,197.33 L242.54,198.51 L242.71,199.68 L242.88,200.84 L243.06,201.98 L243.25,203.1 L243.44,204.18 L243.64,205.24 L243.85,206.26 L244.05,207.25 L244.26,208.19 L244.48,209.1 L244.7,209.97 L244.92,210.81 L245.15,211.6 L245.38,212.36 L245.61,213.08 L245.85,213.76 L246.08,214.41 L246.33,215.02 L246.57,215.6 L246.82,216.14 L247.07,216.66 L247.32,217.14 L247.58,217.6 L247.58,217.39 L247.59,216.78 L247.61,215.82 L247.63,214.57 L247.66,213.12 L247.7,211.57 L247.74,209.99 L247.79,208.47 L247.85,207.05 L247.91,205.78 L247.98,204.66 L248.06,203.7 L248.14,202.89 L248.23,202.21 L248.32,201.64 L248.42,201.15 L248.53,200.72 L248.65,200.34 L248.77,199.99 L248.9,199.67 L249.04,199.35 L249.18,199.05 L249.33,198.76 L249.48,198.48 L249.64,198.2 L249.81,197.93 L249.99,197.67 L250.17,197.42 L250.36,197.17 L250.55,196.93 L250.75,196.71 L250.96,196.49 L251.17,196.28 L251.39,196.08 L251.62,195.9 L251.86,195.72 L252.1,195.56 L252.35,195.4 L252.6,195.26 L252.86,195.12 L253.13,194.99 L253.4,194.88 L253.68,194.77 L253.97,194.67 L254.26,194.58 L254.56,194.5 L254.87,194.42 L255.18,194.35 L255.5,194.29 L255.83,194.23 L256.16,194.18 L256.5,194.14 L256.85,194.1 L257.2,194.06 L257.56,194.03 L257.93,194 L258.3,193.97 L258.68,193.95 L259.07,193.93 L259.46,193.91 L259.46,198.8 L259.53,199.4 L259.64,200.27 L259.76,201.24 L259.89,202.28 L260.04,203.36 L260.19,204.46 L260.36,205.57 L260.53,206.67 L260.7,207.76 L260.88,208.83 L261.07,209.88 L261.26,210.9 L261.46,211.89 L261.67,212.85 L261.87,213.78 L262.08,214.67 L262.3,215.52 L262.52,216.34 L262.74,217.12 L262.97,217.87 L263.2,218.58 L263.43,219.25 L263.67,219.89 L263.9,220.5 L264.15,221.08 L264.39,221.62 L264.64,222.13 L264.89,222.62 L265.14,223.07 L265.4,223.5 L265.4,223.3 L265.41,222.72 L265.43,221.79 L265.45,220.6 L265.48,219.21 L265.52,217.72 L265.56,216.21 L265.61,214.75 L265.67,213.39 L265.73,212.17 L265.8,211.1 L265.88,210.19 L265.96,209.41 L266.05,208.76 L266.14,208.21 L266.24,207.74 L266.35,207.33 L266.47,206.97 L266.59,206.63 L266.72,206.32 L266.86,206.02 L267,205.73 L267.15,205.46 L267.3,205.18 L267.46,204.92 L267.63,204.66 L267.81,204.41 L267.99,204.16 L268.18,203.93 L268.37,203.7 L268.57,203.48 L268.78,203.28 L268.99,203.08 L269.21,202.89 L269.44,202.71 L269.68,202.54 L269.92,202.38 L270.17,202.23 L270.42,202.09 L270.68,201.97 L270.95,201.84 L271.22,201.73 L271.5,201.63 L271.79,201.54 L272.08,201.45 L272.38,201.37 L272.69,201.3 L273,201.23 L273.32,201.17 L273.65,201.12 L273.98,201.07 L274.32,201.02 L274.67,200.98 L275.02,200.95 L275.38,200.92 L275.75,200.89 L276.12,200.87 L276.5,200.84 L276.89,200.82 L277.28,200.81 L277.28,205.7 L277.35,206.31 L277.46,207.17 L277.58,208.15 L277.71,209.2 L277.86,210.28 L278.01,211.38 L278.18,212.49 L278.35,213.6 L278.52,214.7 L278.7,215.77 L278.89,216.82 L279.08,217.85 L279.28,218.84 L279.49,219.81 L279.69,220.74 L279.9,221.63 L280.12,222.49 L280.34,223.31 L280.56,224.09 L280.79,224.84 L281.02,225.56 L281.25,226.24 L281.49,226.88 L281.72,227.49 L281.97,228.07 L282.21,228.61 L282.46,229.13 L282.71,229.61 L282.96,230.07 L283.22,230.5 L283.22,230.29 L283.23,229.67 L283.25,228.7 L283.27,227.44 L283.3,225.98 L283.34,224.42 L283.38,222.83 L283.43,221.29 L283.49,219.86 L283.55,218.58 L283.62,217.45 L283.7,216.49 L283.78,215.67 L283.87,214.98 L283.96,214.4 L284.06,213.91 L284.17,213.48 L284.29,213.1 L284.41,212.74 L284.54,212.41 L284.68,212.1 L284.82,211.8 L284.97,211.51 L285.12,211.22 L285.28,210.94 L285.45,210.67 L285.63,210.4 L285.81,210.15 L286,209.9 L286.19,209.66 L286.39,209.43 L286.6,209.21 L286.81,209 L287.03,208.8 L287.26,208.62 L287.5,208.44 L287.74,208.27 L287.99,208.11 L288.24,207.97 L288.5,207.83 L288.77,207.7 L289.04,207.59 L289.32,207.48 L289.61,207.38 L289.9,207.29 L290.2,207.2 L290.51,207.13 L290.82,207.06 L291.14,207 L291.47,206.94 L291.8,206.89 L292.14,206.84 L292.49,206.8 L292.84,206.76 L293.2,206.73 L293.57,206.7 L293.94,206.67 L294.32,206.65 L294.71,206.63 L295.1,206.61 L295.1,211.5 L295.17,212.03 L295.28,212.78 L295.4,213.63 L295.53,214.54 L295.68,215.49 L295.83,216.45 L296,217.42 L296.17,218.38 L296.34,219.33 L296.52,220.27 L296.71,221.19 L296.9,222.08 L297.1,222.95 L297.31,223.79 L297.51,224.6 L297.72,225.37 L297.94,226.12 L298.16,226.84 L298.38,227.52 L298.61,228.17 L298.84,228.79 L299.07,229.39 L299.31,229.95 L299.54,230.48 L299.79,230.98 L300.03,231.46 L300.28,231.9 L300.53,232.33 L300.78,232.73 L301.04,233.1 L301.04,232.9 L301.05,232.33 L301.07,231.41 L301.09,230.23 L301.12,228.87 L301.16,227.4 L301.2,225.91 L301.25,224.47 L301.31,223.13 L301.37,221.92 L301.44,220.87 L301.52,219.96 L301.6,219.2 L301.69,218.55 L301.78,218.01 L301.88,217.55 L301.99,217.14 L302.11,216.78 L302.23,216.45 L302.36,216.14 L302.5,215.85 L302.64,215.57 L302.79,215.29 L302.94,215.02 L303.1,214.76 L303.27,214.51 L303.45,214.26 L303.63,214.02 L303.82,213.79 L304.01,213.56 L304.21,213.35 L304.42,213.14 L304.63,212.95 L304.85,212.76 L305.08,212.58 L305.32,212.42 L305.56,212.26 L305.81,212.11 L306.06,211.98 L306.32,211.85 L306.59,211.73 L306.86,211.62 L307.14,211.52 L307.43,211.42 L307.72,211.34 L308.02,211.26 L308.33,211.19 L308.64,211.12 L308.96,211.06 L309.29,211.01 L309.62,210.96 L309.96,210.92 L310.31,210.88 L310.66,210.85 L311.02,210.81 L311.39,210.79 L311.76,210.76 L312.14,210.74 L312.53,210.72 L312.92,210.71 L312.92,215.6 L312.99,216.16 L313.1,216.95 L313.22,217.85 L313.35,218.81 L313.5,219.81 L313.65,220.83 L313.82,221.85 L313.99,222.86 L314.16,223.87 L314.34,224.86 L314.53,225.83 L314.72,226.77 L314.92,227.68 L315.13,228.57 L315.33,229.42 L315.54,230.25 L315.76,231.03 L315.98,231.79 L316.2,232.51 L316.43,233.2 L316.66,233.86 L316.89,234.48 L317.13,235.07 L317.36,235.63 L317.61,236.16 L317.85,236.66 L318.1,237.14 L318.35,237.58 L318.6,238 L318.86,238.4 L318.86,238.18 L318.87,237.55 L318.89,236.54 L318.91,235.24 L318.94,233.73 L318.98,232.11 L319.02,230.47 L319.07,228.88 L319.13,227.41 L319.19,226.08 L319.26,224.92 L319.34,223.92 L319.42,223.07 L319.51,222.37 L319.6,221.77 L319.7,221.26 L319.81,220.81 L319.93,220.41 L320.05,220.05 L320.18,219.71 L320.32,219.39 L320.46,219.08 L320.61,218.77 L320.76,218.48 L320.92,218.19 L321.09,217.91 L321.27,217.63 L321.45,217.37 L321.64,217.11 L321.83,216.87 L322.03,216.63 L322.24,216.4 L322.45,216.19 L322.67,215.98 L322.9,215.79 L323.14,215.6 L323.38,215.43 L323.63,215.27 L323.88,215.12 L324.14,214.98 L324.41,214.85 L324.68,214.72 L324.96,214.61 L325.25,214.51 L325.54,214.41 L325.84,214.33 L326.15,214.25 L326.46,214.18 L326.78,214.11 L327.11,214.05 L327.44,214 L327.78,213.95 L328.13,213.91 L328.48,213.87 L328.84,213.84 L329.21,213.81 L329.58,213.78 L329.96,213.76 L330.35,213.73 L330.74,213.72 L330.74,218.6 L330.81,219.21 L330.92,220.09 L331.04,221.08 L331.17,222.14 L331.32,223.24 L331.47,224.35 L331.64,225.48 L331.81,226.6 L331.98,227.7 L332.16,228.79 L332.35,229.86 L332.54,230.9 L332.74,231.9 L332.95,232.88 L333.15,233.82 L333.36,234.72 L333.58,235.59 L333.8,236.42 L334.02,237.22 L334.25,237.98 L334.48,238.7 L334.71,239.38 L334.95,240.03 L335.18,240.65 L335.43,241.24 L335.67,241.79 L335.92,242.31 L336.17,242.8 L336.42,243.26 L336.68,243.7 L336.68,243.47 L336.69,242.79 L336.71,241.71 L336.73,240.31 L336.76,238.69 L336.8,236.96 L336.84,235.2 L336.89,233.49 L336.95,231.91 L337.01,230.48 L337.08,229.24 L337.16,228.17 L337.24,227.26 L337.33,226.5 L337.42,225.86 L337.52,225.31 L337.63,224.84 L337.75,224.41 L337.87,224.02 L338,223.66 L338.14,223.31 L338.28,222.97 L338.43,222.65 L338.58,222.33 L338.74,222.02 L338.91,221.72 L339.09,221.43 L339.27,221.14 L339.46,220.87 L339.65,220.6 L339.85,220.35 L340.06,220.11 L340.27,219.87 L340.49,219.65 L340.72,219.44 L340.96,219.25 L341.2,219.06 L341.45,218.89 L341.7,218.73 L341.96,218.58 L342.23,218.44 L342.5,218.31 L342.78,218.19 L343.07,218.07 L343.36,217.97 L343.66,217.88 L343.97,217.8 L344.28,217.72 L344.6,217.65 L344.93,217.59 L345.26,217.53 L345.6,217.48 L345.95,217.43 L346.3,217.39 L346.66,217.35 L347.03,217.32 L347.4,217.29 L347.78,217.27 L348.17,217.24 L348.56,217.22" fill="none" stroke="#3c3c3c" stroke-width="1.45" stroke-linejoin="round" stroke-linecap="butt"/>
<path d="M206,271.4 L211.94,271.4 L211.94,303.1 L223.82,303.1 L223.82,271.4 L229.76,271.4 L229.76,303.1 L241.64,303.1 L241.64,271.4 L247.58,271.4 L247.58,303.1 L259.46,303.1 L259.46,271.4 L265.4,271.4 L265.4,303.1 L277.28,303.1 L277.28,271.4 L283.22,271.4 L283.22,303.1 L295.1,303.1 L295.1,271.4 L301.04,271.4 L301.04,303.1 L312.92,303.1 L312.92,271.4 L318.86,271.4 L318.86,303.1 L330.74,303.1 L330.74,271.4 L336.68,271.4 L336.68,303.1 L348.56,303.1" fill="none" stroke="#fb4250" stroke-width="1.3" stroke-linejoin="round" stroke-linecap="butt"/>
<rect x="269" y="172.3" width="84" height="20.7" rx="1.5" fill="#fff" fill-opacity="0.8" stroke="#f2f2f2" stroke-width="0.7"/>
<path d="M271.4,178 L285.2,178" fill="none" stroke="#3ccfc6" stroke-width="1.4" stroke-linejoin="round" stroke-linecap="butt" stroke-dasharray="3.6 1.5"/>
<path d="M271.4,187.3 L285.2,187.3" fill="none" stroke="#3c3c3c" stroke-width="1.5" stroke-linejoin="round" stroke-linecap="butt"/>
<text x="0" y="0" font-size="7.5" text-anchor="start" dominant-baseline="central" fill="#444444" font-family='"Liberation Sans", sans-serif' font-weight="normal" stroke="#444444" stroke-width="0.06" transform="translate(290 178)" textLength="59.2" lengthAdjust="spacingAndGlyphs">Reference Voltage</text>
<text x="0" y="0" font-size="7.5" text-anchor="start" dominant-baseline="central" fill="#444444" font-family='"Liberation Sans", sans-serif' font-weight="normal" stroke="#444444" stroke-width="0.06" transform="translate(290 187.3)" textLength="45.6" lengthAdjust="spacingAndGlyphs">Model Voltage</text>
<text x="0" y="0" font-size="7.8" text-anchor="middle" dominant-baseline="central" fill="#363636" font-family='"Liberation Sans", sans-serif' font-weight="normal" stroke="#363636" stroke-width="0.1" transform="translate(277 316)" textLength="34.6" lengthAdjust="spacingAndGlyphs">Time (min)</text>
<text x="0" y="0" font-size="9.2" text-anchor="middle" dominant-baseline="central" fill="#363636" font-family='"Liberation Serif", serif' font-weight="bold" stroke="#363636" stroke-width="0" transform="translate(271.3 329.6)">(k)</text>
<rect x="382.2" y="169.3" width="158.8" height="86" fill="none" stroke="#bcbcbc" stroke-width="1.0"/>
<rect x="382.2" y="271.8" width="158.8" height="34.4" fill="none" stroke="#bcbcbc" stroke-width="1.0"/>
<text x="0" y="0" font-size="7.2" text-anchor="end" dominant-baseline="central" fill="#363636" font-family='"Liberation Sans", sans-serif' font-weight="normal" stroke="#363636" stroke-width="0.18" transform="translate(380.6 183.1) scale(1 1.12)">4.0</text>
<text x="0" y="0" font-size="7.2" text-anchor="end" dominant-baseline="central" fill="#363636" font-family='"Liberation Sans", sans-serif' font-weight="normal" stroke="#363636" stroke-width="0.18" transform="translate(380.6 206.3) scale(1 1.12)">3.8</text>
<text x="0" y="0" font-size="7.2" text-anchor="end" dominant-baseline="central" fill="#363636" font-family='"Liberation Sans", sans-serif' font-weight="normal" stroke="#363636" stroke-width="0.18" transform="translate(380.6 229.5) scale(1 1.12)">3.6</text>
<text x="0" y="0" font-size="7.2" text-anchor="end" dominant-baseline="central" fill="#363636" font-family='"Liberation Sans", sans-serif' font-weight="normal" stroke="#363636" stroke-width="0.18" transform="translate(380.6 252.7) scale(1 1.12)">3.4</text>
<text x="0" y="0" font-size="7.2" text-anchor="middle" dominant-baseline="central" fill="#363636" font-family='"Liberation Sans", sans-serif' font-weight="normal" stroke="#363636" stroke-width="0.18" transform="translate(389.2 260.3) scale(1 1.12)">0</text>
<text x="0" y="0" font-size="7.2" text-anchor="middle" dominant-baseline="central" fill="#363636" font-family='"Liberation Sans", sans-serif' font-weight="normal" stroke="#363636" stroke-width="0.18" transform="translate(389.2 311) scale(1 1.12)">0</text>
<text x="0" y="0" font-size="7.2" text-anchor="middle" dominant-baseline="central" fill="#363636" font-family='"Liberation Sans", sans-serif' font-weight="normal" stroke="#363636" stroke-width="0.18" transform="translate(419.3 260.3) scale(1 1.12)">50</text>
<text x="0" y="0" font-size="7.2" text-anchor="middle" dominant-baseline="central" fill="#363636" font-family='"Liberation Sans", sans-serif' font-weight="normal" stroke="#363636" stroke-width="0.18" transform="translate(419.3 311) scale(1 1.12)">50</text>
<text x="0" y="0" font-size="7.2" text-anchor="middle" dominant-baseline="central" fill="#363636" font-family='"Liberation Sans", sans-serif' font-weight="normal" stroke="#363636" stroke-width="0.18" transform="translate(449.4 260.3) scale(1 1.12)">100</text>
<text x="0" y="0" font-size="7.2" text-anchor="middle" dominant-baseline="central" fill="#363636" font-family='"Liberation Sans", sans-serif' font-weight="normal" stroke="#363636" stroke-width="0.18" transform="translate(449.4 311) scale(1 1.12)">100</text>
<text x="0" y="0" font-size="7.2" text-anchor="middle" dominant-baseline="central" fill="#363636" font-family='"Liberation Sans", sans-serif' font-weight="normal" stroke="#363636" stroke-width="0.18" transform="translate(479.5 260.3) scale(1 1.12)">150</text>
<text x="0" y="0" font-size="7.2" text-anchor="middle" dominant-baseline="central" fill="#363636" font-family='"Liberation Sans", sans-serif' font-weight="normal" stroke="#363636" stroke-width="0.18" transform="translate(479.5 311) scale(1 1.12)">150</text>
<text x="0" y="0" font-size="7.2" text-anchor="middle" dominant-baseline="central" fill="#363636" font-family='"Liberation Sans", sans-serif' font-weight="normal" stroke="#363636" stroke-width="0.18" transform="translate(509.6 260.3) scale(1 1.12)">200</text>
<text x="0" y="0" font-size="7.2" text-anchor="middle" dominant-baseline="central" fill="#363636" font-family='"Liberation Sans", sans-serif' font-weight="normal" stroke="#363636" stroke-width="0.18" transform="translate(509.6 311) scale(1 1.12)">200</text>
<text x="0" y="0" font-size="7.2" text-anchor="middle" dominant-baseline="central" fill="#363636" font-family='"Liberation Sans", sans-serif' font-weight="normal" stroke="#363636" stroke-width="0.18" transform="translate(539.7 260.3) scale(1 1.12)">250</text>
<text x="0" y="0" font-size="7.2" text-anchor="middle" dominant-baseline="central" fill="#363636" font-family='"Liberation Sans", sans-serif' font-weight="normal" stroke="#363636" stroke-width="0.18" transform="translate(539.7 311) scale(1 1.12)">250</text>
<text x="0" y="0" font-size="7.2" text-anchor="end" dominant-baseline="central" fill="#363636" font-family='"Liberation Sans", sans-serif' font-weight="normal" stroke="#363636" stroke-width="0.18" transform="translate(380.6 273.5) scale(1 1.12)">1</text>
<text x="0" y="0" font-size="7.2" text-anchor="end" dominant-baseline="central" fill="#363636" font-family='"Liberation Sans", sans-serif' font-weight="normal" stroke="#363636" stroke-width="0.18" transform="translate(380.6 305) scale(1 1.12)">0</text>
<path d="M388.7,173.6 L388.7,173.6 L388.77,174.28 L388.88,175.25 L389,176.35 L389.14,177.5 L389.29,178.7 L389.44,179.9 L389.61,181.1 L389.78,182.28 L389.96,183.44 L390.14,184.57 L390.33,185.66 L390.53,186.71 L390.73,187.73 L390.94,188.69 L391.14,189.62 L391.36,190.49 L391.58,191.32 L391.8,192.11 L392.02,192.85 L392.25,193.55 L392.49,194.21 L392.72,194.83 L392.96,195.41 L393.2,195.95 L393.45,196.45 L393.7,196.92 L393.95,197.36 L394.2,197.77 L394.46,198.15 L394.72,198.5 L394.72,197.08 L394.73,193.35 L394.75,188.62 L394.77,184.22 L394.8,180.91 L394.84,178.84 L394.88,177.7 L394.93,177.13 L394.99,176.83 L395.05,176.64 L395.12,176.47 L395.2,176.32 L395.29,176.16 L395.38,176 L395.47,175.84 L395.58,175.67 L395.69,175.51 L395.8,175.35 L395.93,175.2 L396.06,175.05 L396.19,174.91 L396.34,174.77 L396.49,174.64 L396.65,174.52 L396.81,174.4 L396.98,174.29 L397.16,174.19 L397.34,174.1 L397.53,174.02 L397.73,173.94 L397.93,173.87 L398.14,173.81 L398.36,173.76 L398.59,173.71 L398.82,173.66 L399.05,173.63 L399.3,173.59 L399.55,173.56 L399.81,173.54 L400.07,173.51 L400.34,173.5 L400.62,173.48 L400.9,173.47 L401.19,173.45 L401.49,173.44 L401.8,173.44 L402.11,173.43 L402.43,173.42 L402.75,173.42 L403.08,173.42 L403.42,173.41 L403.76,173.41 L404.11,173.41 L404.47,173.41 L404.84,173.4 L405.21,173.4 L405.59,173.4 L405.97,173.4 L406.36,173.4 L406.76,173.4 L406.76,184.9 L406.83,185.72 L406.94,186.87 L407.06,188.14 L407.2,189.47 L407.35,190.8 L407.5,192.12 L407.67,193.4 L407.84,194.64 L408.02,195.83 L408.2,196.95 L408.39,198.01 L408.59,199 L408.79,199.92 L409,200.78 L409.2,201.58 L409.42,202.32 L409.64,202.99 L409.86,203.61 L410.08,204.18 L410.31,204.7 L410.55,205.17 L410.78,205.59 L411.02,205.98 L411.26,206.33 L411.51,206.65 L411.76,206.93 L412.01,207.18 L412.26,207.41 L412.52,207.62 L412.78,207.8 L412.78,206.38 L412.79,202.67 L412.81,197.96 L412.83,193.57 L412.86,190.28 L412.9,188.22 L412.94,187.09 L412.99,186.52 L413.05,186.22 L413.11,186.02 L413.18,185.86 L413.26,185.71 L413.35,185.55 L413.44,185.39 L413.53,185.23 L413.64,185.06 L413.75,184.9 L413.86,184.75 L413.99,184.59 L414.12,184.44 L414.25,184.3 L414.4,184.16 L414.55,184.03 L414.71,183.91 L414.87,183.8 L415.04,183.69 L415.22,183.59 L415.4,183.5 L415.59,183.42 L415.79,183.34 L415.99,183.27 L416.2,183.21 L416.42,183.16 L416.65,183.11 L416.88,183.06 L417.11,183.02 L417.36,182.99 L417.61,182.96 L417.87,182.94 L418.13,182.91 L418.4,182.9 L418.68,182.88 L418.96,182.87 L419.25,182.85 L419.55,182.84 L419.86,182.84 L420.17,182.83 L420.49,182.82 L420.81,182.82 L421.14,182.82 L421.48,182.81 L421.82,182.81 L422.17,182.81 L422.53,182.81 L422.9,182.8 L423.27,182.8 L423.65,182.8 L424.03,182.8 L424.42,182.8 L424.82,182.8 L424.82,200.8 L424.89,201.5 L425,202.46 L425.12,203.5 L425.26,204.56 L425.41,205.6 L425.56,206.59 L425.73,207.54 L425.9,208.42 L426.08,209.23 L426.26,209.97 L426.45,210.65 L426.65,211.26 L426.85,211.81 L427.06,212.3 L427.26,212.74 L427.48,213.13 L427.7,213.47 L427.92,213.77 L428.14,214.04 L428.37,214.27 L428.61,214.47 L428.84,214.65 L429.08,214.8 L429.32,214.93 L429.57,215.04 L429.82,215.14 L430.07,215.22 L430.32,215.29 L430.58,215.35 L430.84,215.4 L430.84,214 L430.85,210.35 L430.87,205.72 L430.89,201.4 L430.92,198.16 L430.96,196.13 L431,195.02 L431.05,194.46 L431.11,194.16 L431.17,193.97 L431.24,193.81 L431.32,193.66 L431.41,193.5 L431.5,193.35 L431.59,193.19 L431.7,193.03 L431.81,192.87 L431.92,192.72 L432.05,192.56 L432.18,192.42 L432.31,192.28 L432.46,192.14 L432.61,192.01 L432.77,191.89 L432.93,191.78 L433.1,191.68 L433.28,191.58 L433.46,191.49 L433.65,191.41 L433.85,191.33 L434.05,191.27 L434.26,191.2 L434.48,191.15 L434.71,191.1 L434.94,191.06 L435.17,191.02 L435.42,190.99 L435.67,190.96 L435.93,190.93 L436.19,190.91 L436.46,190.89 L436.74,190.88 L437.02,190.86 L437.31,190.85 L437.61,190.84 L437.92,190.84 L438.23,190.83 L438.55,190.82 L438.87,190.82 L439.2,190.82 L439.54,190.81 L439.88,190.81 L440.23,190.81 L440.59,190.81 L440.96,190.8 L441.33,190.8 L441.71,190.8 L442.09,190.8 L442.48,190.8 L442.88,190.8 L442.88,208.3 L442.95,209.01 L443.06,209.99 L443.18,211.04 L443.32,212.09 L443.47,213.11 L443.62,214.07 L443.79,214.97 L443.96,215.79 L444.14,216.55 L444.32,217.22 L444.51,217.83 L444.71,218.36 L444.91,218.84 L445.12,219.26 L445.32,219.62 L445.54,219.94 L445.76,220.21 L445.98,220.45 L446.2,220.65 L446.43,220.82 L446.67,220.97 L446.9,221.1 L447.14,221.2 L447.38,221.29 L447.63,221.37 L447.88,221.43 L448.13,221.49 L448.38,221.53 L448.64,221.57 L448.9,221.6 L448.9,220.23 L448.91,216.66 L448.93,212.12 L448.95,207.89 L448.98,204.71 L449.02,202.72 L449.06,201.63 L449.11,201.08 L449.17,200.79 L449.23,200.61 L449.3,200.45 L449.38,200.3 L449.47,200.15 L449.56,199.99 L449.65,199.84 L449.76,199.68 L449.87,199.53 L449.98,199.38 L450.11,199.23 L450.24,199.09 L450.37,198.95 L450.52,198.82 L450.67,198.69 L450.83,198.57 L450.99,198.46 L451.16,198.36 L451.34,198.26 L451.52,198.18 L451.71,198.09 L451.91,198.02 L452.11,197.96 L452.32,197.9 L452.54,197.84 L452.77,197.8 L453,197.75 L453.23,197.72 L453.48,197.68 L453.73,197.66 L453.99,197.63 L454.25,197.61 L454.52,197.59 L454.8,197.58 L455.08,197.56 L455.37,197.55 L455.67,197.54 L455.98,197.53 L456.29,197.53 L456.61,197.52 L456.93,197.52 L457.26,197.51 L457.6,197.51 L457.94,197.51 L458.29,197.51 L458.65,197.51 L459.02,197.5 L459.39,197.5 L459.77,197.5 L460.15,197.5 L460.54,197.5 L460.94,197.5 L460.94,216.5 L461.01,217.05 L461.12,217.81 L461.24,218.63 L461.38,219.46 L461.53,220.28 L461.68,221.06 L461.85,221.81 L462.02,222.5 L462.2,223.14 L462.38,223.72 L462.57,224.26 L462.77,224.74 L462.97,225.17 L463.18,225.56 L463.38,225.91 L463.6,226.21 L463.82,226.48 L464.04,226.72 L464.26,226.93 L464.49,227.11 L464.73,227.27 L464.96,227.41 L465.2,227.52 L465.44,227.63 L465.69,227.72 L465.94,227.79 L466.19,227.86 L466.44,227.91 L466.7,227.96 L466.96,228 L466.96,226.6 L466.97,222.93 L466.99,218.28 L467.01,213.94 L467.04,210.69 L467.08,208.65 L467.12,207.53 L467.17,206.97 L467.23,206.68 L467.29,206.48 L467.36,206.32 L467.44,206.17 L467.53,206.01 L467.62,205.86 L467.71,205.7 L467.82,205.54 L467.93,205.38 L468.04,205.22 L468.17,205.07 L468.3,204.92 L468.43,204.78 L468.58,204.65 L468.73,204.52 L468.89,204.4 L469.05,204.29 L469.22,204.18 L469.4,204.08 L469.58,203.99 L469.77,203.91 L469.97,203.83 L470.17,203.77 L470.38,203.71 L470.6,203.65 L470.83,203.6 L471.06,203.56 L471.29,203.52 L471.54,203.49 L471.79,203.46 L472.05,203.43 L472.31,203.41 L472.58,203.39 L472.86,203.38 L473.14,203.36 L473.43,203.35 L473.73,203.34 L474.04,203.34 L474.35,203.33 L474.67,203.32 L474.99,203.32 L475.32,203.32 L475.66,203.31 L476,203.31 L476.35,203.31 L476.71,203.31 L477.08,203.3 L477.45,203.3 L477.83,203.3 L478.21,203.3 L478.6,203.3 L479,203.3 L479,223.3 L479.07,223.79 L479.18,224.46 L479.3,225.19 L479.44,225.93 L479.59,226.65 L479.74,227.35 L479.91,228.01 L480.08,228.62 L480.26,229.19 L480.44,229.71 L480.63,230.18 L480.83,230.61 L481.03,230.99 L481.24,231.34 L481.44,231.64 L481.66,231.91 L481.88,232.15 L482.1,232.36 L482.32,232.55 L482.55,232.71 L482.79,232.85 L483.02,232.97 L483.26,233.08 L483.5,233.17 L483.75,233.25 L484,233.32 L484.25,233.37 L484.5,233.42 L484.76,233.46 L485.02,233.5 L485.02,232.03 L485.03,228.19 L485.05,223.31 L485.07,218.76 L485.1,215.35 L485.14,213.21 L485.18,212.04 L485.23,211.45 L485.29,211.14 L485.35,210.94 L485.42,210.77 L485.5,210.61 L485.59,210.45 L485.68,210.28 L485.77,210.11 L485.88,209.95 L485.99,209.78 L486.1,209.62 L486.23,209.46 L486.36,209.3 L486.49,209.16 L486.64,209.01 L486.79,208.88 L486.95,208.75 L487.11,208.63 L487.28,208.52 L487.46,208.42 L487.64,208.33 L487.83,208.24 L488.03,208.16 L488.23,208.09 L488.44,208.03 L488.66,207.97 L488.89,207.92 L489.12,207.87 L489.35,207.83 L489.6,207.8 L489.85,207.77 L490.11,207.74 L490.37,207.72 L490.64,207.7 L490.92,207.68 L491.2,207.67 L491.49,207.66 L491.79,207.65 L492.1,207.64 L492.41,207.63 L492.73,207.62 L493.05,207.62 L493.38,207.62 L493.72,207.61 L494.06,207.61 L494.41,207.61 L494.77,207.61 L495.14,207.6 L495.51,207.6 L495.89,207.6 L496.27,207.6 L496.66,207.6 L497.06,207.6 L497.06,228.6 L497.13,229.03 L497.24,229.62 L497.36,230.28 L497.5,230.97 L497.65,231.67 L497.8,232.35 L497.97,233.02 L498.14,233.66 L498.32,234.28 L498.5,234.86 L498.69,235.41 L498.89,235.93 L499.09,236.41 L499.3,236.85 L499.5,237.27 L499.72,237.65 L499.94,238 L500.16,238.32 L500.38,238.62 L500.61,238.89 L500.85,239.13 L501.08,239.35 L501.32,239.55 L501.56,239.74 L501.81,239.9 L502.06,240.05 L502.31,240.18 L502.56,240.3 L502.82,240.4 L503.08,240.5 L503.08,238.84 L503.09,234.49 L503.11,228.97 L503.13,223.83 L503.16,219.97 L503.2,217.55 L503.24,216.22 L503.29,215.56 L503.35,215.2 L503.41,214.98 L503.48,214.79 L503.56,214.61 L503.65,214.42 L503.74,214.23 L503.83,214.04 L503.94,213.85 L504.05,213.67 L504.16,213.48 L504.29,213.3 L504.42,213.13 L504.55,212.96 L504.7,212.8 L504.85,212.65 L505.01,212.5 L505.17,212.37 L505.34,212.24 L505.52,212.13 L505.7,212.02 L505.89,211.92 L506.09,211.83 L506.29,211.75 L506.5,211.68 L506.72,211.62 L506.95,211.56 L507.18,211.51 L507.41,211.46 L507.66,211.42 L507.91,211.39 L508.17,211.36 L508.43,211.33 L508.7,211.31 L508.98,211.29 L509.26,211.28 L509.55,211.26 L509.85,211.25 L510.16,211.24 L510.47,211.23 L510.79,211.23 L511.11,211.22 L511.44,211.22 L511.78,211.21 L512.12,211.21 L512.47,211.21 L512.83,211.21 L513.2,211.21 L513.57,211.2 L513.95,211.2 L514.33,211.2 L514.72,211.2 L515.12,211.2 L515.12,231.7 L515.19,232.11 L515.3,232.7 L515.42,233.36 L515.56,234.07 L515.71,234.8 L515.86,235.55 L516.03,236.3 L516.2,237.05 L516.38,237.79 L516.56,238.52 L516.75,239.24 L516.95,239.93 L517.15,240.6 L517.36,241.26 L517.56,241.89 L517.78,242.49 L518,243.07 L518.22,243.63 L518.44,244.16 L518.67,244.67 L518.91,245.15 L519.14,245.61 L519.38,246.05 L519.62,246.46 L519.87,246.85 L520.12,247.22 L520.37,247.57 L520.62,247.9 L520.88,248.21 L521.14,248.5 L521.14,246.58 L521.15,241.57 L521.17,235.2 L521.19,229.27 L521.22,224.82 L521.26,222.02 L521.3,220.49 L521.35,219.72 L521.41,219.32 L521.47,219.06 L521.54,218.84 L521.62,218.63 L521.71,218.42 L521.8,218.2 L521.89,217.98 L522,217.76 L522.11,217.55 L522.22,217.33 L522.35,217.12 L522.48,216.92 L522.61,216.73 L522.76,216.54 L522.91,216.37 L523.07,216.2 L523.23,216.05 L523.4,215.9 L523.58,215.77 L523.76,215.65 L523.95,215.53 L524.15,215.43 L524.35,215.34 L524.56,215.26 L524.78,215.18 L525.01,215.11 L525.24,215.06 L525.47,215 L525.72,214.96 L525.97,214.92 L526.23,214.88 L526.49,214.85 L526.76,214.83 L527.04,214.81 L527.32,214.79 L527.61,214.77 L527.91,214.76 L528.22,214.75 L528.53,214.74 L528.85,214.73 L529.17,214.73 L529.5,214.72 L529.84,214.72 L530.18,214.71 L530.53,214.71 L530.89,214.71 L531.26,214.71 L531.63,214.71 L532.01,214.7 L532.39,214.7 L532.78,214.7 L533.18,214.7" fill="none" stroke="#3ccfc6" stroke-width="1.35" stroke-linejoin="round" stroke-linecap="butt" stroke-dasharray="3.6 1.5"/>
<path d="M389.2,173.6 L389.2,173.6 L389.27,174.21 L389.38,175.08 L389.5,176.06 L389.64,177.11 L389.79,178.2 L389.94,179.31 L390.11,180.42 L390.28,181.53 L390.46,182.63 L390.64,183.71 L390.83,184.77 L391.03,185.8 L391.23,186.8 L391.44,187.76 L391.64,188.7 L391.86,189.59 L392.08,190.46 L392.3,191.28 L392.52,192.07 L392.75,192.82 L392.99,193.54 L393.22,194.22 L393.46,194.86 L393.7,195.48 L393.95,196.06 L394.2,196.6 L394.45,197.12 L394.7,197.61 L394.96,198.07 L395.22,198.5 L395.22,197.09 L395.23,193.39 L395.25,188.7 L395.27,184.33 L395.3,181.05 L395.34,178.99 L395.38,177.87 L395.43,177.3 L395.49,177 L395.55,176.81 L395.62,176.65 L395.7,176.49 L395.79,176.34 L395.88,176.18 L395.97,176.02 L396.08,175.86 L396.19,175.7 L396.3,175.54 L396.43,175.39 L396.56,175.24 L396.69,175.1 L396.84,174.96 L396.99,174.83 L397.15,174.71 L397.31,174.59 L397.48,174.49 L397.66,174.39 L397.84,174.3 L398.03,174.21 L398.23,174.14 L398.43,174.07 L398.64,174.01 L398.86,173.95 L399.09,173.91 L399.32,173.86 L399.55,173.82 L399.8,173.79 L400.05,173.76 L400.31,173.74 L400.57,173.71 L400.84,173.7 L401.12,173.68 L401.4,173.67 L401.69,173.65 L401.99,173.64 L402.3,173.64 L402.61,173.63 L402.93,173.62 L403.25,173.62 L403.58,173.62 L403.92,173.61 L404.26,173.61 L404.61,173.61 L404.97,173.61 L405.34,173.6 L405.71,173.6 L406.09,173.6 L406.47,173.6 L406.86,173.6 L407.26,173.6 L407.26,185.1 L407.33,185.81 L407.44,186.82 L407.56,187.94 L407.7,189.11 L407.85,190.3 L408,191.49 L408.17,192.66 L408.34,193.8 L408.52,194.9 L408.7,195.95 L408.89,196.96 L409.09,197.91 L409.29,198.81 L409.5,199.66 L409.7,200.45 L409.92,201.2 L410.14,201.89 L410.36,202.53 L410.58,203.12 L410.81,203.67 L411.05,204.18 L411.28,204.65 L411.52,205.07 L411.76,205.47 L412.01,205.83 L412.26,206.16 L412.51,206.45 L412.76,206.73 L413.02,206.98 L413.28,207.2 L413.28,205.83 L413.29,202.24 L413.31,197.68 L413.33,193.43 L413.36,190.24 L413.4,188.24 L413.44,187.15 L413.49,186.6 L413.55,186.31 L413.61,186.12 L413.68,185.96 L413.76,185.81 L413.85,185.66 L413.94,185.5 L414.03,185.35 L414.14,185.19 L414.25,185.04 L414.36,184.88 L414.49,184.74 L414.62,184.59 L414.75,184.45 L414.9,184.32 L415.05,184.2 L415.21,184.08 L415.37,183.97 L415.54,183.86 L415.72,183.77 L415.9,183.68 L416.09,183.6 L416.29,183.52 L416.49,183.46 L416.7,183.4 L416.92,183.34 L417.15,183.3 L417.38,183.25 L417.61,183.22 L417.86,183.18 L418.11,183.16 L418.37,183.13 L418.63,183.11 L418.9,183.09 L419.18,183.08 L419.46,183.06 L419.75,183.05 L420.05,183.04 L420.36,183.04 L420.67,183.03 L420.99,183.02 L421.31,183.02 L421.64,183.01 L421.98,183.01 L422.32,183.01 L422.67,183.01 L423.03,183.01 L423.4,183 L423.77,183 L424.15,183 L424.53,183 L424.92,183 L425.32,183 L425.32,201 L425.39,201.59 L425.5,202.41 L425.62,203.29 L425.76,204.19 L425.91,205.07 L426.06,205.92 L426.23,206.72 L426.4,207.47 L426.58,208.16 L426.76,208.79 L426.95,209.37 L427.15,209.89 L427.35,210.35 L427.56,210.77 L427.76,211.14 L427.98,211.47 L428.2,211.76 L428.42,212.02 L428.64,212.24 L428.87,212.44 L429.11,212.61 L429.34,212.76 L429.58,212.89 L429.82,213 L430.07,213.09 L430.32,213.18 L430.57,213.25 L430.82,213.31 L431.08,213.36 L431.34,213.4 L431.34,212.14 L431.35,208.83 L431.37,204.62 L431.39,200.71 L431.42,197.78 L431.46,195.93 L431.5,194.92 L431.55,194.41 L431.61,194.15 L431.67,193.98 L431.74,193.83 L431.82,193.69 L431.91,193.55 L432,193.41 L432.09,193.26 L432.2,193.12 L432.31,192.98 L432.42,192.84 L432.55,192.7 L432.68,192.57 L432.81,192.44 L432.96,192.32 L433.11,192.2 L433.27,192.09 L433.43,191.99 L433.6,191.89 L433.78,191.81 L433.96,191.72 L434.15,191.65 L434.35,191.58 L434.55,191.52 L434.76,191.47 L434.98,191.42 L435.21,191.37 L435.44,191.33 L435.67,191.3 L435.92,191.27 L436.17,191.24 L436.43,191.22 L436.69,191.2 L436.96,191.19 L437.24,191.17 L437.52,191.16 L437.81,191.15 L438.11,191.14 L438.42,191.13 L438.73,191.13 L439.05,191.12 L439.37,191.12 L439.7,191.11 L440.04,191.11 L440.38,191.11 L440.73,191.11 L441.09,191.11 L441.46,191.1 L441.83,191.1 L442.21,191.1 L442.59,191.1 L442.98,191.1 L443.38,191.1 L443.38,208.6 L443.45,209.17 L443.56,209.95 L443.68,210.78 L443.82,211.62 L443.97,212.43 L444.12,213.2 L444.29,213.92 L444.46,214.57 L444.64,215.17 L444.82,215.71 L445.01,216.19 L445.21,216.62 L445.41,217 L445.62,217.33 L445.82,217.62 L446.04,217.87 L446.26,218.09 L446.48,218.28 L446.7,218.44 L446.93,218.58 L447.17,218.7 L447.4,218.8 L447.64,218.88 L447.88,218.96 L448.13,219.02 L448.38,219.07 L448.63,219.11 L448.88,219.15 L449.14,219.18 L449.4,219.2 L449.4,217.98 L449.41,214.79 L449.43,210.74 L449.45,206.97 L449.48,204.14 L449.52,202.36 L449.56,201.39 L449.61,200.9 L449.67,200.64 L449.73,200.47 L449.8,200.33 L449.88,200.2 L449.97,200.06 L450.06,199.93 L450.15,199.79 L450.26,199.65 L450.37,199.51 L450.48,199.37 L450.61,199.24 L450.74,199.11 L450.87,198.99 L451.02,198.87 L451.17,198.76 L451.33,198.66 L451.49,198.56 L451.66,198.47 L451.84,198.38 L452.02,198.3 L452.21,198.23 L452.41,198.17 L452.61,198.11 L452.82,198.05 L453.04,198.01 L453.27,197.96 L453.5,197.93 L453.73,197.89 L453.98,197.86 L454.23,197.84 L454.49,197.82 L454.75,197.8 L455.02,197.78 L455.3,197.77 L455.58,197.76 L455.87,197.75 L456.17,197.74 L456.48,197.73 L456.79,197.73 L457.11,197.72 L457.43,197.72 L457.76,197.71 L458.1,197.71 L458.44,197.71 L458.79,197.71 L459.15,197.71 L459.52,197.7 L459.89,197.7 L460.27,197.7 L460.65,197.7 L461.04,197.7 L461.44,197.7 L461.44,216.7 L461.51,217.11 L461.62,217.68 L461.74,218.29 L461.88,218.91 L462.03,219.53 L462.18,220.11 L462.35,220.67 L462.52,221.19 L462.7,221.66 L462.88,222.1 L463.07,222.5 L463.27,222.86 L463.47,223.19 L463.68,223.48 L463.88,223.73 L464.1,223.96 L464.32,224.17 L464.54,224.34 L464.76,224.5 L464.99,224.63 L465.23,224.75 L465.46,224.86 L465.7,224.94 L465.94,225.02 L466.19,225.09 L466.44,225.14 L466.69,225.19 L466.94,225.23 L467.2,225.27 L467.46,225.3 L467.46,224.07 L467.47,220.85 L467.49,216.76 L467.51,212.95 L467.54,210.1 L467.58,208.3 L467.62,207.32 L467.67,206.83 L467.73,206.57 L467.79,206.4 L467.86,206.26 L467.94,206.12 L468.03,205.99 L468.12,205.85 L468.21,205.71 L468.32,205.57 L468.43,205.43 L468.54,205.29 L468.67,205.16 L468.8,205.03 L468.93,204.9 L469.08,204.78 L469.23,204.67 L469.39,204.57 L469.55,204.47 L469.72,204.37 L469.9,204.29 L470.08,204.21 L470.27,204.14 L470.47,204.07 L470.67,204.01 L470.88,203.96 L471.1,203.91 L471.33,203.87 L471.56,203.83 L471.79,203.79 L472.04,203.77 L472.29,203.74 L472.55,203.72 L472.81,203.7 L473.08,203.68 L473.36,203.67 L473.64,203.66 L473.93,203.65 L474.23,203.64 L474.54,203.63 L474.85,203.63 L475.17,203.62 L475.49,203.62 L475.82,203.61 L476.16,203.61 L476.5,203.61 L476.85,203.61 L477.21,203.61 L477.58,203.6 L477.95,203.6 L478.33,203.6 L478.71,203.6 L479.1,203.6 L479.5,203.6 L479.5,223.6 L479.57,223.97 L479.68,224.49 L479.8,225.04 L479.94,225.61 L480.09,226.16 L480.24,226.7 L480.41,227.2 L480.58,227.67 L480.76,228.1 L480.94,228.5 L481.13,228.86 L481.33,229.19 L481.53,229.48 L481.74,229.75 L481.94,229.98 L482.16,230.19 L482.38,230.37 L482.6,230.53 L482.82,230.67 L483.05,230.8 L483.29,230.9 L483.52,231 L483.76,231.08 L484,231.15 L484.25,231.21 L484.5,231.26 L484.75,231.3 L485,231.34 L485.26,231.37 L485.52,231.4 L485.52,230.07 L485.53,226.6 L485.55,222.19 L485.57,218.08 L485.6,215.01 L485.64,213.07 L485.68,212.01 L485.73,211.48 L485.79,211.2 L485.85,211.02 L485.92,210.87 L486,210.72 L486.09,210.57 L486.18,210.42 L486.27,210.27 L486.38,210.12 L486.49,209.97 L486.6,209.82 L486.73,209.68 L486.86,209.54 L486.99,209.41 L487.14,209.28 L487.29,209.16 L487.45,209.04 L487.61,208.93 L487.78,208.83 L487.96,208.74 L488.14,208.66 L488.33,208.58 L488.53,208.51 L488.73,208.44 L488.94,208.38 L489.16,208.33 L489.39,208.29 L489.62,208.25 L489.85,208.21 L490.1,208.18 L490.35,208.15 L490.61,208.13 L490.87,208.11 L491.14,208.09 L491.42,208.07 L491.7,208.06 L491.99,208.05 L492.29,208.04 L492.6,208.03 L492.91,208.03 L493.23,208.02 L493.55,208.02 L493.88,208.01 L494.22,208.01 L494.56,208.01 L494.91,208.01 L495.27,208.01 L495.64,208 L496.01,208 L496.39,208 L496.77,208 L497.16,208 L497.56,208 L497.56,229 L497.63,229.38 L497.74,229.92 L497.86,230.51 L498,231.13 L498.15,231.76 L498.3,232.37 L498.47,232.97 L498.64,233.55 L498.82,234.11 L499,234.63 L499.19,235.12 L499.39,235.59 L499.59,236.02 L499.8,236.42 L500,236.79 L500.22,237.14 L500.44,237.45 L500.66,237.74 L500.88,238.01 L501.11,238.25 L501.35,238.47 L501.58,238.67 L501.82,238.85 L502.06,239.01 L502.31,239.16 L502.56,239.29 L502.81,239.41 L503.06,239.52 L503.32,239.61 L503.58,239.7 L503.58,238.15 L503.59,234.1 L503.61,228.96 L503.63,224.16 L503.66,220.57 L503.7,218.31 L503.74,217.08 L503.79,216.46 L503.85,216.13 L503.91,215.92 L503.98,215.74 L504.06,215.57 L504.15,215.4 L504.24,215.23 L504.33,215.05 L504.44,214.87 L504.55,214.7 L504.66,214.53 L504.79,214.36 L504.92,214.2 L505.05,214.04 L505.2,213.89 L505.35,213.75 L505.51,213.61 L505.67,213.49 L505.84,213.37 L506.02,213.26 L506.2,213.16 L506.39,213.07 L506.59,212.99 L506.79,212.92 L507,212.85 L507.22,212.79 L507.45,212.73 L507.68,212.69 L507.91,212.65 L508.16,212.61 L508.41,212.58 L508.67,212.55 L508.93,212.52 L509.2,212.5 L509.48,212.49 L509.76,212.47 L510.05,212.46 L510.35,212.45 L510.66,212.44 L510.97,212.43 L511.29,212.43 L511.61,212.42 L511.94,212.42 L512.28,212.41 L512.62,212.41 L512.97,212.41 L513.33,212.41 L513.7,212.41 L514.07,212.4 L514.45,212.4 L514.83,212.4 L515.22,212.4 L515.62,212.4 L515.62,232.9 L515.69,233.29 L515.8,233.85 L515.92,234.49 L516.06,235.18 L516.21,235.9 L516.36,236.65 L516.53,237.4 L516.7,238.16 L516.88,238.93 L517.06,239.69 L517.25,240.44 L517.45,241.18 L517.65,241.91 L517.86,242.63 L518.06,243.33 L518.28,244.02 L518.5,244.69 L518.72,245.34 L518.94,245.97 L519.17,246.58 L519.41,247.17 L519.64,247.74 L519.88,248.29 L520.12,248.82 L520.37,249.33 L520.62,249.82 L520.87,250.3 L521.12,250.75 L521.38,251.18 L521.64,251.6 L521.64,249.59 L521.65,244.34 L521.67,237.67 L521.69,231.46 L521.72,226.8 L521.76,223.87 L521.8,222.27 L521.85,221.46 L521.91,221.04 L521.97,220.76 L522.04,220.54 L522.12,220.31 L522.21,220.09 L522.3,219.86 L522.39,219.64 L522.5,219.41 L522.61,219.18 L522.72,218.96 L522.85,218.74 L522.98,218.53 L523.11,218.33 L523.26,218.13 L523.41,217.95 L523.57,217.77 L523.73,217.61 L523.9,217.46 L524.08,217.32 L524.26,217.19 L524.45,217.07 L524.65,216.97 L524.85,216.87 L525.06,216.78 L525.28,216.7 L525.51,216.63 L525.74,216.57 L525.97,216.52 L526.22,216.47 L526.47,216.43 L526.73,216.39 L526.99,216.36 L527.26,216.34 L527.54,216.31 L527.82,216.29 L528.11,216.28 L528.41,216.26 L528.72,216.25 L529.03,216.24 L529.35,216.23 L529.67,216.23 L530,216.22 L530.34,216.22 L530.68,216.21 L531.03,216.21 L531.39,216.21 L531.76,216.21 L532.13,216.21 L532.51,216.2 L532.89,216.2 L533.28,216.2 L533.68,216.2" fill="none" stroke="#3c3c3c" stroke-width="1.45" stroke-linejoin="round" stroke-linecap="butt"/>
<path d="M389.2,273.5 L395.22,273.5 L395.22,305 L407.26,305 L407.26,273.5 L413.28,273.5 L413.28,305 L425.32,305 L425.32,273.5 L431.34,273.5 L431.34,305 L443.38,305 L443.38,273.5 L449.4,273.5 L449.4,305 L461.44,305 L461.44,273.5 L467.46,273.5 L467.46,305 L479.5,305 L479.5,273.5 L485.52,273.5 L485.52,305 L497.56,305 L497.56,273.5 L503.58,273.5 L503.58,305 L515.62,305 L515.62,273.5 L521.64,273.5 L521.64,305 L533.68,305" fill="none" stroke="#fb4250" stroke-width="1.3" stroke-linejoin="round" stroke-linecap="butt"/>
<rect x="454" y="172.8" width="83.5" height="20.7" rx="1.5" fill="#fff" fill-opacity="0.8" stroke="#f2f2f2" stroke-width="0.7"/>
<path d="M456,178 L469.8,178" fill="none" stroke="#3ccfc6" stroke-width="1.4" stroke-linejoin="round" stroke-linecap="butt" stroke-dasharray="3.6 1.5"/>
<path d="M456,187.5 L469.8,187.5" fill="none" stroke="#3c3c3c" stroke-width="1.5" stroke-linejoin="round" stroke-linecap="butt"/>
<text x="0" y="0" font-size="7.5" text-anchor="start" dominant-baseline="central" fill="#444444" font-family='"Liberation Sans", sans-serif' font-weight="normal" stroke="#444444" stroke-width="0.06" transform="translate(475 178)" textLength="59.5" lengthAdjust="spacingAndGlyphs">Reference Voltage</text>
<text x="0" y="0" font-size="7.5" text-anchor="start" dominant-baseline="central" fill="#444444" font-family='"Liberation Sans", sans-serif' font-weight="normal" stroke="#444444" stroke-width="0.06" transform="translate(475 187.5)" textLength="46" lengthAdjust="spacingAndGlyphs">Model Voltage</text>
<text x="0" y="0" font-size="7.8" text-anchor="middle" dominant-baseline="central" fill="#363636" font-family='"Liberation Sans", sans-serif' font-weight="normal" stroke="#363636" stroke-width="0.1" transform="translate(461.7 318.6)" textLength="34.6" lengthAdjust="spacingAndGlyphs">Time (min)</text>
<text x="0" y="0" font-size="9.2" text-anchor="middle" dominant-baseline="central" fill="#363636" font-family='"Liberation Serif", serif' font-weight="bold" stroke="#363636" stroke-width="0" transform="translate(454.7 329.8)">(l)</text>
<text x="0" y="0" font-size="7.6" text-anchor="middle" dominant-baseline="central" fill="#363636" font-family='"Liberation Sans", sans-serif' font-weight="normal" stroke="#363636" stroke-width="0.1" transform="translate(10 47.2) rotate(-90) scale(1 1.0)" textLength="35.5" lengthAdjust="spacingAndGlyphs">Voltage (V)</text>
<text x="0" y="0" font-size="6.9" text-anchor="middle" dominant-baseline="central" fill="#363636" font-family='"Liberation Sans", sans-serif' font-weight="normal" stroke="#363636" stroke-width="0.1" transform="translate(5.9 121.8) rotate(-90) scale(1 0.8)" textLength="35" lengthAdjust="spacingAndGlyphs">Current (A)</text>
<text x="0" y="0" font-size="7.0" text-anchor="middle" dominant-baseline="central" fill="#363636" font-family='"Liberation Sans", sans-serif' font-weight="normal" stroke="#363636" stroke-width="0.1" transform="translate(5.9 211.6) rotate(-90) scale(1 1.0)" textLength="37" lengthAdjust="spacingAndGlyphs">Voltage (V)</text>
<text x="0" y="0" font-size="6.9" text-anchor="middle" dominant-baseline="central" fill="#363636" font-family='"Liberation Sans", sans-serif' font-weight="normal" stroke="#363636" stroke-width="0.1" transform="translate(12 287.2) rotate(-90) scale(1 0.8)" textLength="35.5" lengthAdjust="spacingAndGlyphs">Current (A)</text>
</svg></body></html>
